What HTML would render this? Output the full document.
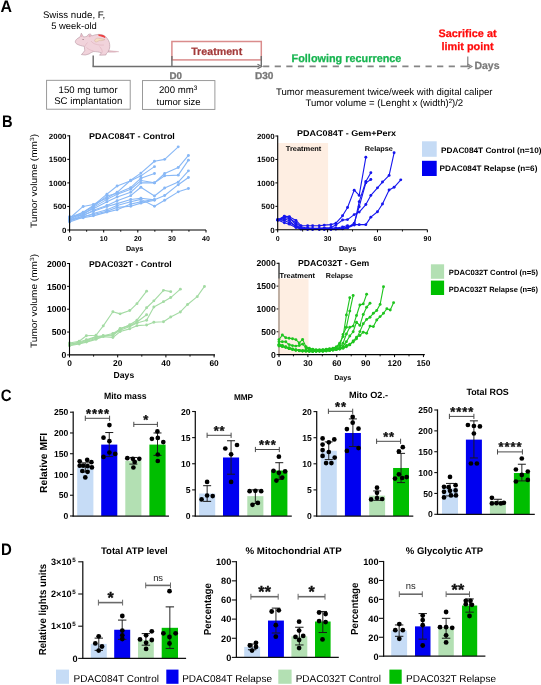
<!DOCTYPE html>
<html><head><meta charset="utf-8"><title>Figure</title>
<style>
html,body{margin:0;padding:0;background:#fff;}
body{width:541px;height:685px;overflow:hidden;}
svg{display:block;font-family:'Liberation Sans', Arial, sans-serif;text-rendering:geometricPrecision;}
</style></head>
<body>
<svg width="541" height="685" viewBox="0 0 541 685">
<rect width="541" height="685" fill="#fff"/>
<text x="0.4" y="11.9" font-size="16.6" font-weight="bold" fill="#000" textLength="11.5" lengthAdjust="spacingAndGlyphs" >A</text>
<text x="42.9" y="18.0" font-size="9.6" fill="#000" textLength="62.4" lengthAdjust="spacingAndGlyphs" >Swiss nude, F,</text>
<text x="51.2" y="28.7" font-size="9.4" fill="#000" textLength="45.6" lengthAdjust="spacingAndGlyphs" >5 week-old</text>
<g stroke-linejoin="round">
  <path d="M108.6,50.5 C112,50.9 116,51.2 118.9,51.7 C116,52.2 112,52.4 108.4,52.3 Z" fill="#e3bcc5" stroke="#c89aa6" stroke-width="0.3"/>
  <path d="M75.3,41.6 C75.6,40.2 76.5,39.2 77.8,38.3 L80.2,36.8 L81.3,33.2 L83.5,37.0 C84.8,36.8 86.2,36.6 87.3,36.2 C87.6,34.8 88.6,34.0 89.9,34.0 C91.0,34.1 91.6,35.0 91.7,36.0 C93.5,35.0 95.8,34.6 98.1,34.4 C101.5,34.2 104.0,35.2 105.9,37.0 C108.0,39.0 109.5,41.8 109.7,44.6 C109.9,47.2 109.6,49.3 108.5,50.7 L108.2,52.0 C107.0,52.6 106.2,53.4 105.9,55.0 L99.5,55.2 C100.2,54.2 101.0,53.4 101.5,52.8 C98.8,52.0 95.8,51.5 93.5,51.6 C92.0,52.0 90.4,53.0 89.0,54.0 L85.3,55.0 L81.4,54.6 C82.4,53.4 83.8,52.2 84.7,50.6 C84.6,48.6 84.4,47.2 84.2,46.3 C82.8,46.1 81.4,45.9 80.7,45.6 C79.2,45.2 77.8,44.6 76.7,43.9 C75.8,43.4 75.2,42.5 75.3,41.6 Z" fill="#f1d3db" stroke="#a98390" stroke-width="0.5"/>
  <path d="M88.4,36.3 C88.6,35.2 89.4,34.7 90.1,34.8 C90.8,35.0 91.0,35.8 90.9,36.6 C90.2,37.4 89.0,37.4 88.4,36.3 Z" fill="#e2adbb"/>
  <path d="M80.6,36.9 L81.3,34.4 L82.5,37.0 Z" fill="#e6b4c0"/>
  <path d="M98.1,34.6 C101.5,34.3 104.0,35.2 105.5,36.9 L104.9,38.1 C103.0,36.9 100.8,36.1 98.7,36.0 Z" fill="#ee4040"/>
  <path d="M94.6,40.5 C95.0,38.8 96.8,37.8 98.6,38.3 C100.6,38.7 102.8,39.0 104.9,39.6 C103.4,40.6 101.2,40.8 99.4,40.6 C98.0,41.2 96.6,42.2 95.4,42.0 Z" fill="#f5dcc4" stroke="#c6a388" stroke-width="0.35"/>
  <path d="M86.5,47.5 C88.5,49.3 90.5,50.3 93.5,51.0 M99.5,46.5 C101.5,48.5 102.5,50.5 102.2,52.6 M91,41 C93,44 98,45.5 104,45 M84.6,46.6 C85.6,45 86.5,43.5 87.5,42.5" fill="none" stroke="#d8a6b3" stroke-width="0.45"/>
  <ellipse cx="83.1" cy="39.4" rx="0.7" ry="0.45" fill="#5a3a45"/>
</g>
<line x1="93.20" y1="55.60" x2="93.20" y2="66.60" stroke="#6e6e6e" stroke-width="1.45" />
<line x1="92.50" y1="66.40" x2="259.50" y2="66.40" stroke="#6e6e6e" stroke-width="1.45" />
<path d="M257.5,64.2 L261.8,66.5 L257.5,68.8" fill="none" stroke="#6e6e6e" stroke-width="1.1"/>
<rect x="171.90" y="41.50" width="89.40" height="18.40" fill="none" stroke="#da8c8c" stroke-width="1.5" />
<line x1="171.90" y1="56.00" x2="171.90" y2="66.50" stroke="#6e6e6e" stroke-width="1.4" />
<line x1="261.30" y1="56.00" x2="261.30" y2="66.50" stroke="#6e6e6e" stroke-width="1.4" />
<text x="191.2" y="54.7" font-size="10.7" font-weight="bold" fill="#a33a3a" textLength="51.0" lengthAdjust="spacingAndGlyphs" stroke="#a33a3a" stroke-width="0.2">Treatment</text>
<text x="169.6" y="79.3" font-size="9.7" font-weight="bold" fill="#777777" textLength="12.4" lengthAdjust="spacingAndGlyphs" stroke="#777777" stroke-width="0.3">D0</text>
<text x="254.9" y="79.3" font-size="10" font-weight="bold" fill="#777777" textLength="18.5" lengthAdjust="spacingAndGlyphs" stroke="#777777" stroke-width="0.3">D30</text>
<rect x="46.60" y="80.30" width="83.60" height="28.90" fill="#fff" stroke="#8f8f8f" stroke-width="0.9" />
<text x="58.6" y="93.1" font-size="9.6" fill="#000" textLength="59.0" lengthAdjust="spacingAndGlyphs" >150 mg tumor</text>
<text x="54.2" y="104.0" font-size="9.6" fill="#000" textLength="68.1" lengthAdjust="spacingAndGlyphs" >SC implantation</text>
<rect x="142.50" y="80.60" width="72.40" height="28.80" fill="#fff" stroke="#8f8f8f" stroke-width="0.9" />
<text x="159.0" y="92.9" font-size="9.6" fill="#000">200 mm<tspan font-size="6.4" dy="-3.4">3</tspan></text>
<text x="156.6" y="104.6" font-size="9.5" fill="#000" textLength="44.0" lengthAdjust="spacingAndGlyphs" >tumor size</text>
<line x1="263.10" y1="66.40" x2="459.00" y2="66.40" stroke="#858585" stroke-width="1.7" stroke-dasharray="6.2,5.4"/>
<line x1="460.40" y1="66.40" x2="470.00" y2="66.40" stroke="#858585" stroke-width="1.7" />
<path d="M467.6,63.9 L471.9,66.4 L467.6,68.9" fill="none" stroke="#858585" stroke-width="1.2"/>
<line x1="467.80" y1="56.40" x2="467.80" y2="66.30" stroke="#777" stroke-width="1.1" />
<text x="291.6" y="62.3" font-size="11.1" font-weight="bold" fill="#16b44f" textLength="109.8" lengthAdjust="spacingAndGlyphs" stroke="#16b44f" stroke-width="0.25">Following recurrence</text>
<text x="438.4" y="37.4" font-size="10.9" font-weight="bold" fill="#ff0a0a" textLength="58.2" lengthAdjust="spacingAndGlyphs" stroke="#ff0a0a" stroke-width="0.25">Sacrifice at</text>
<text x="441.5" y="50.4" font-size="10.9" font-weight="bold" fill="#ff0a0a" textLength="52.1" lengthAdjust="spacingAndGlyphs" stroke="#ff0a0a" stroke-width="0.25">limit point</text>
<text x="474.4" y="69.4" font-size="10.5" font-weight="bold" fill="#7a7a7a" textLength="25.1" lengthAdjust="spacingAndGlyphs" stroke="#7a7a7a" stroke-width="0.25">Days</text>
<text x="276.0" y="94.9" font-size="9.6" fill="#000" textLength="216.5" lengthAdjust="spacingAndGlyphs" >Tumor measurement twice/week with digital caliper</text>
<text x="305.5" y="106.0" font-size="9.6" fill="#000" textLength="157.7" lengthAdjust="spacingAndGlyphs">Tumor volume = (Lenght x (width)<tspan font-size="6" dy="-3.3">2</tspan><tspan dy="3.3">)/2</tspan></text>
<text x="1.9" y="126.6" font-size="16.8" font-weight="bold" fill="#000" textLength="10.6" lengthAdjust="spacingAndGlyphs" >B</text>
<path d="M69.60,218.22 L83.18,206.45 L93.36,204.57 L106.94,197.97 L117.13,192.32 L130.71,180.22 L140.89,173.10 L154.47,161.23 L164.66,159.35 L178.24,146.87" fill="none" stroke="#88b8f6" stroke-width="1.1" stroke-linejoin="round"/>
<circle cx="69.60" cy="218.22" r="1.45" fill="#88b8f6"/>
<circle cx="83.18" cy="206.45" r="1.45" fill="#88b8f6"/>
<circle cx="93.36" cy="204.57" r="1.45" fill="#88b8f6"/>
<circle cx="106.94" cy="197.97" r="1.45" fill="#88b8f6"/>
<circle cx="117.13" cy="192.32" r="1.45" fill="#88b8f6"/>
<circle cx="130.71" cy="180.22" r="1.45" fill="#88b8f6"/>
<circle cx="140.89" cy="173.10" r="1.45" fill="#88b8f6"/>
<circle cx="154.47" cy="161.23" r="1.45" fill="#88b8f6"/>
<circle cx="164.66" cy="159.35" r="1.45" fill="#88b8f6"/>
<circle cx="178.24" cy="146.87" r="1.45" fill="#88b8f6"/>
<path d="M69.60,219.17 L83.18,212.10 L93.36,205.51 L106.94,194.20 L117.13,185.96 L130.71,180.78 L140.89,175.84 L154.47,166.65" fill="none" stroke="#88b8f6" stroke-width="1.1" stroke-linejoin="round"/>
<circle cx="69.60" cy="219.17" r="1.45" fill="#88b8f6"/>
<circle cx="83.18" cy="212.10" r="1.45" fill="#88b8f6"/>
<circle cx="93.36" cy="205.51" r="1.45" fill="#88b8f6"/>
<circle cx="106.94" cy="194.20" r="1.45" fill="#88b8f6"/>
<circle cx="117.13" cy="185.96" r="1.45" fill="#88b8f6"/>
<circle cx="130.71" cy="180.78" r="1.45" fill="#88b8f6"/>
<circle cx="140.89" cy="175.84" r="1.45" fill="#88b8f6"/>
<circle cx="154.47" cy="166.65" r="1.45" fill="#88b8f6"/>
<path d="M69.60,217.28 L83.18,212.57 L93.36,206.45 L106.94,196.09 L117.13,193.26 L130.71,187.61 L140.89,178.19 L154.47,173.48" fill="none" stroke="#88b8f6" stroke-width="1.1" stroke-linejoin="round"/>
<circle cx="69.60" cy="217.28" r="1.45" fill="#88b8f6"/>
<circle cx="83.18" cy="212.57" r="1.45" fill="#88b8f6"/>
<circle cx="93.36" cy="206.45" r="1.45" fill="#88b8f6"/>
<circle cx="106.94" cy="196.09" r="1.45" fill="#88b8f6"/>
<circle cx="117.13" cy="193.26" r="1.45" fill="#88b8f6"/>
<circle cx="130.71" cy="187.61" r="1.45" fill="#88b8f6"/>
<circle cx="140.89" cy="178.19" r="1.45" fill="#88b8f6"/>
<circle cx="154.47" cy="173.48" r="1.45" fill="#88b8f6"/>
<path d="M69.60,220.11 L83.18,214.46 L93.36,207.39 L106.94,199.38 L117.13,194.20 L130.71,189.26 L140.89,180.55 L154.47,182.81 L164.66,173.48 L178.24,167.55 L188.43,155.44" fill="none" stroke="#88b8f6" stroke-width="1.1" stroke-linejoin="round"/>
<circle cx="69.60" cy="220.11" r="1.45" fill="#88b8f6"/>
<circle cx="83.18" cy="214.46" r="1.45" fill="#88b8f6"/>
<circle cx="93.36" cy="207.39" r="1.45" fill="#88b8f6"/>
<circle cx="106.94" cy="199.38" r="1.45" fill="#88b8f6"/>
<circle cx="117.13" cy="194.20" r="1.45" fill="#88b8f6"/>
<circle cx="130.71" cy="189.26" r="1.45" fill="#88b8f6"/>
<circle cx="140.89" cy="180.55" r="1.45" fill="#88b8f6"/>
<circle cx="154.47" cy="182.81" r="1.45" fill="#88b8f6"/>
<circle cx="164.66" cy="173.48" r="1.45" fill="#88b8f6"/>
<circle cx="178.24" cy="167.55" r="1.45" fill="#88b8f6"/>
<circle cx="188.43" cy="155.44" r="1.45" fill="#88b8f6"/>
<path d="M69.60,218.70 L83.18,213.52 L93.36,208.81 L106.94,201.74 L117.13,197.03 L130.71,192.32 L140.89,182.90 L154.47,182.90 L164.66,175.74 L178.24,175.13 L188.43,160.15" fill="none" stroke="#88b8f6" stroke-width="1.1" stroke-linejoin="round"/>
<circle cx="69.60" cy="218.70" r="1.45" fill="#88b8f6"/>
<circle cx="83.18" cy="213.52" r="1.45" fill="#88b8f6"/>
<circle cx="93.36" cy="208.81" r="1.45" fill="#88b8f6"/>
<circle cx="106.94" cy="201.74" r="1.45" fill="#88b8f6"/>
<circle cx="117.13" cy="197.03" r="1.45" fill="#88b8f6"/>
<circle cx="130.71" cy="192.32" r="1.45" fill="#88b8f6"/>
<circle cx="140.89" cy="182.90" r="1.45" fill="#88b8f6"/>
<circle cx="154.47" cy="182.90" r="1.45" fill="#88b8f6"/>
<circle cx="164.66" cy="175.74" r="1.45" fill="#88b8f6"/>
<circle cx="178.24" cy="175.13" r="1.45" fill="#88b8f6"/>
<circle cx="188.43" cy="160.15" r="1.45" fill="#88b8f6"/>
<path d="M69.60,221.05 L83.18,215.87 L93.36,210.22 L106.94,205.51 L117.13,200.80 L130.71,195.66 L140.89,187.28 L154.47,195.99 L164.66,187.99 L178.24,182.10 L188.43,170.84" fill="none" stroke="#88b8f6" stroke-width="1.1" stroke-linejoin="round"/>
<circle cx="69.60" cy="221.05" r="1.45" fill="#88b8f6"/>
<circle cx="83.18" cy="215.87" r="1.45" fill="#88b8f6"/>
<circle cx="93.36" cy="210.22" r="1.45" fill="#88b8f6"/>
<circle cx="106.94" cy="205.51" r="1.45" fill="#88b8f6"/>
<circle cx="117.13" cy="200.80" r="1.45" fill="#88b8f6"/>
<circle cx="130.71" cy="195.66" r="1.45" fill="#88b8f6"/>
<circle cx="140.89" cy="187.28" r="1.45" fill="#88b8f6"/>
<circle cx="154.47" cy="195.99" r="1.45" fill="#88b8f6"/>
<circle cx="164.66" cy="187.99" r="1.45" fill="#88b8f6"/>
<circle cx="178.24" cy="182.10" r="1.45" fill="#88b8f6"/>
<circle cx="188.43" cy="170.84" r="1.45" fill="#88b8f6"/>
<path d="M69.60,216.81 L83.18,214.93 L93.36,211.16 L106.94,206.45 L117.13,203.62 L130.71,199.57 L140.89,198.25 L154.47,199.86 L164.66,195.48 L178.24,184.69 L188.43,177.44" fill="none" stroke="#88b8f6" stroke-width="1.1" stroke-linejoin="round"/>
<circle cx="69.60" cy="216.81" r="1.45" fill="#88b8f6"/>
<circle cx="83.18" cy="214.93" r="1.45" fill="#88b8f6"/>
<circle cx="93.36" cy="211.16" r="1.45" fill="#88b8f6"/>
<circle cx="106.94" cy="206.45" r="1.45" fill="#88b8f6"/>
<circle cx="117.13" cy="203.62" r="1.45" fill="#88b8f6"/>
<circle cx="130.71" cy="199.57" r="1.45" fill="#88b8f6"/>
<circle cx="140.89" cy="198.25" r="1.45" fill="#88b8f6"/>
<circle cx="154.47" cy="199.86" r="1.45" fill="#88b8f6"/>
<circle cx="164.66" cy="195.48" r="1.45" fill="#88b8f6"/>
<circle cx="178.24" cy="184.69" r="1.45" fill="#88b8f6"/>
<circle cx="188.43" cy="177.44" r="1.45" fill="#88b8f6"/>
<path d="M69.60,221.99 L83.18,217.28 L93.36,213.52 L106.94,209.75 L117.13,205.51 L130.71,201.74 L140.89,199.38 L154.47,206.26 L164.66,200.28 L178.24,191.85 L188.43,188.55" fill="none" stroke="#88b8f6" stroke-width="1.1" stroke-linejoin="round"/>
<circle cx="69.60" cy="221.99" r="1.45" fill="#88b8f6"/>
<circle cx="83.18" cy="217.28" r="1.45" fill="#88b8f6"/>
<circle cx="93.36" cy="213.52" r="1.45" fill="#88b8f6"/>
<circle cx="106.94" cy="209.75" r="1.45" fill="#88b8f6"/>
<circle cx="117.13" cy="205.51" r="1.45" fill="#88b8f6"/>
<circle cx="130.71" cy="201.74" r="1.45" fill="#88b8f6"/>
<circle cx="140.89" cy="199.38" r="1.45" fill="#88b8f6"/>
<circle cx="154.47" cy="206.26" r="1.45" fill="#88b8f6"/>
<circle cx="164.66" cy="200.28" r="1.45" fill="#88b8f6"/>
<circle cx="178.24" cy="191.85" r="1.45" fill="#88b8f6"/>
<circle cx="188.43" cy="188.55" r="1.45" fill="#88b8f6"/>
<path d="M69.60,220.58 L83.18,216.34 L93.36,214.46 L106.94,211.16 L117.13,207.39 L130.71,206.26 L140.89,203.15 L154.47,200.33" fill="none" stroke="#88b8f6" stroke-width="1.1" stroke-linejoin="round"/>
<circle cx="69.60" cy="220.58" r="1.45" fill="#88b8f6"/>
<circle cx="83.18" cy="216.34" r="1.45" fill="#88b8f6"/>
<circle cx="93.36" cy="214.46" r="1.45" fill="#88b8f6"/>
<circle cx="106.94" cy="211.16" r="1.45" fill="#88b8f6"/>
<circle cx="117.13" cy="207.39" r="1.45" fill="#88b8f6"/>
<circle cx="130.71" cy="206.26" r="1.45" fill="#88b8f6"/>
<circle cx="140.89" cy="203.15" r="1.45" fill="#88b8f6"/>
<circle cx="154.47" cy="200.33" r="1.45" fill="#88b8f6"/>
<path d="M69.60,219.64 L83.18,217.75 L93.36,215.87 L106.94,212.10 L117.13,209.75 L130.71,204.09 L140.89,201.74 L154.47,199.38" fill="none" stroke="#88b8f6" stroke-width="1.1" stroke-linejoin="round"/>
<circle cx="69.60" cy="219.64" r="1.45" fill="#88b8f6"/>
<circle cx="83.18" cy="217.75" r="1.45" fill="#88b8f6"/>
<circle cx="93.36" cy="215.87" r="1.45" fill="#88b8f6"/>
<circle cx="106.94" cy="212.10" r="1.45" fill="#88b8f6"/>
<circle cx="117.13" cy="209.75" r="1.45" fill="#88b8f6"/>
<circle cx="130.71" cy="204.09" r="1.45" fill="#88b8f6"/>
<circle cx="140.89" cy="201.74" r="1.45" fill="#88b8f6"/>
<circle cx="154.47" cy="199.38" r="1.45" fill="#88b8f6"/>
<line x1="69.60" y1="135.30" x2="69.60" y2="230.50" stroke="#000" stroke-width="1.1" />
<line x1="67.30" y1="230.00" x2="69.60" y2="230.00" stroke="#000" stroke-width="1.0" />
<text x="66.5" y="232.7" font-size="7.5" font-weight="bold" fill="#000" text-anchor="end" textLength="4.42" lengthAdjust="spacingAndGlyphs">0</text>
<line x1="67.30" y1="206.45" x2="69.60" y2="206.45" stroke="#000" stroke-width="1.0" />
<text x="66.5" y="209.1" font-size="7.5" font-weight="bold" fill="#000" text-anchor="end" textLength="13.26" lengthAdjust="spacingAndGlyphs">500</text>
<line x1="67.30" y1="182.90" x2="69.60" y2="182.90" stroke="#000" stroke-width="1.0" />
<text x="66.5" y="185.6" font-size="7.5" font-weight="bold" fill="#000" text-anchor="end" textLength="17.68" lengthAdjust="spacingAndGlyphs">1000</text>
<line x1="67.30" y1="159.35" x2="69.60" y2="159.35" stroke="#000" stroke-width="1.0" />
<text x="66.5" y="162.1" font-size="7.5" font-weight="bold" fill="#000" text-anchor="end" textLength="17.68" lengthAdjust="spacingAndGlyphs">1500</text>
<line x1="67.30" y1="135.80" x2="69.60" y2="135.80" stroke="#000" stroke-width="1.0" />
<text x="66.5" y="138.5" font-size="7.5" font-weight="bold" fill="#000" text-anchor="end" textLength="17.68" lengthAdjust="spacingAndGlyphs">2000</text>
<line x1="69.10" y1="230.00" x2="206.00" y2="230.00" stroke="#000" stroke-width="1.1" />
<line x1="69.60" y1="230.00" x2="69.60" y2="232.50" stroke="#000" stroke-width="1.0" />
<text x="69.6" y="241.0" font-size="7.0" font-weight="bold" fill="#000" text-anchor="middle" >0</text>
<line x1="103.70" y1="230.00" x2="103.70" y2="232.50" stroke="#000" stroke-width="1.0" />
<text x="103.7" y="241.0" font-size="7.0" font-weight="bold" fill="#000" text-anchor="middle" >10</text>
<line x1="137.80" y1="230.00" x2="137.80" y2="232.50" stroke="#000" stroke-width="1.0" />
<text x="137.8" y="241.0" font-size="7.0" font-weight="bold" fill="#000" text-anchor="middle" >20</text>
<line x1="171.90" y1="230.00" x2="171.90" y2="232.50" stroke="#000" stroke-width="1.0" />
<text x="171.9" y="241.0" font-size="7.0" font-weight="bold" fill="#000" text-anchor="middle" >30</text>
<line x1="206.00" y1="230.00" x2="206.00" y2="232.50" stroke="#000" stroke-width="1.0" />
<text x="206.0" y="241.0" font-size="7.0" font-weight="bold" fill="#000" text-anchor="middle" >40</text>
<line x1="86.65" y1="230.00" x2="86.65" y2="231.75" stroke="#000" stroke-width="0.9" />
<line x1="120.75" y1="230.00" x2="120.75" y2="231.75" stroke="#000" stroke-width="0.9" />
<line x1="154.85" y1="230.00" x2="154.85" y2="231.75" stroke="#000" stroke-width="0.9" />
<line x1="188.95" y1="230.00" x2="188.95" y2="231.75" stroke="#000" stroke-width="0.9" />
<text x="125.9" y="251.3" font-size="7.2" font-weight="bold" fill="#000" textLength="17.3" lengthAdjust="spacingAndGlyphs" >Days</text>
<text x="88.9" y="138.8" font-size="8.4" font-weight="bold" fill="#000" textLength="86.0" lengthAdjust="spacingAndGlyphs" >PDAC084T - Control</text>
<text transform="translate(36.9,181.0) rotate(-90)" font-size="9.2" text-anchor="middle" fill="#000" textLength="94" lengthAdjust="spacingAndGlyphs">Tumor volume (mm<tspan font-size="6" dy="-3">3</tspan><tspan dy="3">)</tspan></text>
<rect x="278.00" y="143.00" width="50.10" height="86.80" fill="#feeee2" stroke="none" stroke-width="1" />
<path d="M277.70,219.95 L284.35,216.20 L289.34,216.67 L295.99,220.42 L300.98,225.58 L307.63,225.81 L312.62,225.81 L319.27,225.81 L324.26,225.11 L330.92,224.64 L335.90,223.23 L342.56,215.82 L347.55,207.48 L354.20,190.17 L359.19,195.42 L365.84,157.29" fill="none" stroke="#1616ee" stroke-width="1.1" stroke-linejoin="round"/>
<circle cx="277.70" cy="219.95" r="1.45" fill="#1616ee"/>
<circle cx="284.35" cy="216.20" r="1.45" fill="#1616ee"/>
<circle cx="289.34" cy="216.67" r="1.45" fill="#1616ee"/>
<circle cx="295.99" cy="220.42" r="1.45" fill="#1616ee"/>
<circle cx="300.98" cy="225.58" r="1.45" fill="#1616ee"/>
<circle cx="307.63" cy="225.81" r="1.45" fill="#1616ee"/>
<circle cx="312.62" cy="225.81" r="1.45" fill="#1616ee"/>
<circle cx="319.27" cy="225.81" r="1.45" fill="#1616ee"/>
<circle cx="324.26" cy="225.11" r="1.45" fill="#1616ee"/>
<circle cx="330.92" cy="224.64" r="1.45" fill="#1616ee"/>
<circle cx="335.90" cy="223.23" r="1.45" fill="#1616ee"/>
<circle cx="342.56" cy="215.82" r="1.45" fill="#1616ee"/>
<circle cx="347.55" cy="207.48" r="1.45" fill="#1616ee"/>
<circle cx="354.20" cy="190.17" r="1.45" fill="#1616ee"/>
<circle cx="359.19" cy="195.42" r="1.45" fill="#1616ee"/>
<circle cx="365.84" cy="157.29" r="1.45" fill="#1616ee"/>
<path d="M277.70,219.95 L284.35,217.61 L289.34,218.54 L295.99,222.77 L300.98,226.99 L307.63,227.92 L312.62,228.39 L319.27,228.39 L324.26,227.92 L330.92,227.46 L335.90,225.11 L342.56,220.04 L347.55,219.62 L354.20,214.60 L359.19,212.12 L365.84,204.57 L370.83,195.42 L377.48,187.87 L382.47,182.06 L389.12,175.40 L394.11,152.79" fill="none" stroke="#1616ee" stroke-width="1.1" stroke-linejoin="round"/>
<circle cx="277.70" cy="219.95" r="1.45" fill="#1616ee"/>
<circle cx="284.35" cy="217.61" r="1.45" fill="#1616ee"/>
<circle cx="289.34" cy="218.54" r="1.45" fill="#1616ee"/>
<circle cx="295.99" cy="222.77" r="1.45" fill="#1616ee"/>
<circle cx="300.98" cy="226.99" r="1.45" fill="#1616ee"/>
<circle cx="307.63" cy="227.92" r="1.45" fill="#1616ee"/>
<circle cx="312.62" cy="228.39" r="1.45" fill="#1616ee"/>
<circle cx="319.27" cy="228.39" r="1.45" fill="#1616ee"/>
<circle cx="324.26" cy="227.92" r="1.45" fill="#1616ee"/>
<circle cx="330.92" cy="227.46" r="1.45" fill="#1616ee"/>
<circle cx="335.90" cy="225.11" r="1.45" fill="#1616ee"/>
<circle cx="342.56" cy="220.04" r="1.45" fill="#1616ee"/>
<circle cx="347.55" cy="219.62" r="1.45" fill="#1616ee"/>
<circle cx="354.20" cy="214.60" r="1.45" fill="#1616ee"/>
<circle cx="359.19" cy="212.12" r="1.45" fill="#1616ee"/>
<circle cx="365.84" cy="204.57" r="1.45" fill="#1616ee"/>
<circle cx="370.83" cy="195.42" r="1.45" fill="#1616ee"/>
<circle cx="377.48" cy="187.87" r="1.45" fill="#1616ee"/>
<circle cx="382.47" cy="182.06" r="1.45" fill="#1616ee"/>
<circle cx="389.12" cy="175.40" r="1.45" fill="#1616ee"/>
<circle cx="394.11" cy="152.79" r="1.45" fill="#1616ee"/>
<path d="M277.70,219.95 L284.35,222.77 L289.34,224.17 L295.99,227.46 L300.98,228.86 L307.63,229.33 L312.62,229.33 L319.27,229.33 L324.26,229.33 L330.92,229.33 L335.90,228.86 L342.56,228.39 L347.55,226.99 L354.20,224.64 L359.19,224.64 L365.84,224.64 L370.83,217.14 L377.48,211.70 L382.47,203.96 L389.12,189.98 L394.11,187.26 L400.76,179.85" fill="none" stroke="#1616ee" stroke-width="1.1" stroke-linejoin="round"/>
<circle cx="277.70" cy="219.95" r="1.45" fill="#1616ee"/>
<circle cx="284.35" cy="222.77" r="1.45" fill="#1616ee"/>
<circle cx="289.34" cy="224.17" r="1.45" fill="#1616ee"/>
<circle cx="295.99" cy="227.46" r="1.45" fill="#1616ee"/>
<circle cx="300.98" cy="228.86" r="1.45" fill="#1616ee"/>
<circle cx="307.63" cy="229.33" r="1.45" fill="#1616ee"/>
<circle cx="312.62" cy="229.33" r="1.45" fill="#1616ee"/>
<circle cx="319.27" cy="229.33" r="1.45" fill="#1616ee"/>
<circle cx="324.26" cy="229.33" r="1.45" fill="#1616ee"/>
<circle cx="330.92" cy="229.33" r="1.45" fill="#1616ee"/>
<circle cx="335.90" cy="228.86" r="1.45" fill="#1616ee"/>
<circle cx="342.56" cy="228.39" r="1.45" fill="#1616ee"/>
<circle cx="347.55" cy="226.99" r="1.45" fill="#1616ee"/>
<circle cx="354.20" cy="224.64" r="1.45" fill="#1616ee"/>
<circle cx="359.19" cy="224.64" r="1.45" fill="#1616ee"/>
<circle cx="365.84" cy="224.64" r="1.45" fill="#1616ee"/>
<circle cx="370.83" cy="217.14" r="1.45" fill="#1616ee"/>
<circle cx="377.48" cy="211.70" r="1.45" fill="#1616ee"/>
<circle cx="382.47" cy="203.96" r="1.45" fill="#1616ee"/>
<circle cx="389.12" cy="189.98" r="1.45" fill="#1616ee"/>
<circle cx="394.11" cy="187.26" r="1.45" fill="#1616ee"/>
<circle cx="400.76" cy="179.85" r="1.45" fill="#1616ee"/>
<path d="M277.70,219.95 L284.35,216.67 L289.34,217.14 L295.99,225.11 L300.98,227.92 L307.63,228.86 L312.62,229.10 L319.27,229.10 L324.26,229.10 L330.92,229.10 L335.90,228.86 L342.56,228.39 L347.55,227.46 L354.20,223.28 L359.19,206.68 L365.84,182.85 L370.83,179.52" fill="none" stroke="#1616ee" stroke-width="1.1" stroke-linejoin="round"/>
<circle cx="277.70" cy="219.95" r="1.45" fill="#1616ee"/>
<circle cx="284.35" cy="216.67" r="1.45" fill="#1616ee"/>
<circle cx="289.34" cy="217.14" r="1.45" fill="#1616ee"/>
<circle cx="295.99" cy="225.11" r="1.45" fill="#1616ee"/>
<circle cx="300.98" cy="227.92" r="1.45" fill="#1616ee"/>
<circle cx="307.63" cy="228.86" r="1.45" fill="#1616ee"/>
<circle cx="312.62" cy="229.10" r="1.45" fill="#1616ee"/>
<circle cx="319.27" cy="229.10" r="1.45" fill="#1616ee"/>
<circle cx="324.26" cy="229.10" r="1.45" fill="#1616ee"/>
<circle cx="330.92" cy="229.10" r="1.45" fill="#1616ee"/>
<circle cx="335.90" cy="228.86" r="1.45" fill="#1616ee"/>
<circle cx="342.56" cy="228.39" r="1.45" fill="#1616ee"/>
<circle cx="347.55" cy="227.46" r="1.45" fill="#1616ee"/>
<circle cx="354.20" cy="223.28" r="1.45" fill="#1616ee"/>
<circle cx="359.19" cy="206.68" r="1.45" fill="#1616ee"/>
<circle cx="365.84" cy="182.85" r="1.45" fill="#1616ee"/>
<circle cx="370.83" cy="179.52" r="1.45" fill="#1616ee"/>
<path d="M277.70,219.95 L284.35,219.01 L289.34,220.42 L295.99,226.99 L300.98,229.10 L307.63,229.33 L312.62,229.33 L319.27,229.33 L324.26,229.33 L330.92,229.33 L335.90,229.10 L342.56,228.86 L347.55,227.92 L354.20,225.11 L359.19,201.66 L365.84,181.49 L370.83,172.68" fill="none" stroke="#1616ee" stroke-width="1.1" stroke-linejoin="round"/>
<circle cx="277.70" cy="219.95" r="1.45" fill="#1616ee"/>
<circle cx="284.35" cy="219.01" r="1.45" fill="#1616ee"/>
<circle cx="289.34" cy="220.42" r="1.45" fill="#1616ee"/>
<circle cx="295.99" cy="226.99" r="1.45" fill="#1616ee"/>
<circle cx="300.98" cy="229.10" r="1.45" fill="#1616ee"/>
<circle cx="307.63" cy="229.33" r="1.45" fill="#1616ee"/>
<circle cx="312.62" cy="229.33" r="1.45" fill="#1616ee"/>
<circle cx="319.27" cy="229.33" r="1.45" fill="#1616ee"/>
<circle cx="324.26" cy="229.33" r="1.45" fill="#1616ee"/>
<circle cx="330.92" cy="229.33" r="1.45" fill="#1616ee"/>
<circle cx="335.90" cy="229.10" r="1.45" fill="#1616ee"/>
<circle cx="342.56" cy="228.86" r="1.45" fill="#1616ee"/>
<circle cx="347.55" cy="227.92" r="1.45" fill="#1616ee"/>
<circle cx="354.20" cy="225.11" r="1.45" fill="#1616ee"/>
<circle cx="359.19" cy="201.66" r="1.45" fill="#1616ee"/>
<circle cx="365.84" cy="181.49" r="1.45" fill="#1616ee"/>
<circle cx="370.83" cy="172.68" r="1.45" fill="#1616ee"/>
<path d="M277.70,219.95 L284.35,220.42 L289.34,222.77 L295.99,226.05 L300.98,228.39 L307.63,228.86 L312.62,228.86 L319.27,228.86 L324.26,228.63 L330.92,228.39 L335.90,227.92 L342.56,226.99 L347.55,225.58" fill="none" stroke="#1616ee" stroke-width="1.1" stroke-linejoin="round"/>
<circle cx="277.70" cy="219.95" r="1.45" fill="#1616ee"/>
<circle cx="284.35" cy="220.42" r="1.45" fill="#1616ee"/>
<circle cx="289.34" cy="222.77" r="1.45" fill="#1616ee"/>
<circle cx="295.99" cy="226.05" r="1.45" fill="#1616ee"/>
<circle cx="300.98" cy="228.39" r="1.45" fill="#1616ee"/>
<circle cx="307.63" cy="228.86" r="1.45" fill="#1616ee"/>
<circle cx="312.62" cy="228.86" r="1.45" fill="#1616ee"/>
<circle cx="319.27" cy="228.86" r="1.45" fill="#1616ee"/>
<circle cx="324.26" cy="228.63" r="1.45" fill="#1616ee"/>
<circle cx="330.92" cy="228.39" r="1.45" fill="#1616ee"/>
<circle cx="335.90" cy="227.92" r="1.45" fill="#1616ee"/>
<circle cx="342.56" cy="226.99" r="1.45" fill="#1616ee"/>
<circle cx="347.55" cy="225.58" r="1.45" fill="#1616ee"/>
<line x1="277.70" y1="135.50" x2="277.70" y2="230.30" stroke="#000" stroke-width="1.1" />
<line x1="275.40" y1="229.80" x2="277.70" y2="229.80" stroke="#000" stroke-width="1.0" />
<text x="274.6" y="232.5" font-size="7.5" font-weight="bold" fill="#000" text-anchor="end" textLength="4.42" lengthAdjust="spacingAndGlyphs">0</text>
<line x1="275.40" y1="206.35" x2="277.70" y2="206.35" stroke="#000" stroke-width="1.0" />
<text x="274.6" y="209.1" font-size="7.5" font-weight="bold" fill="#000" text-anchor="end" textLength="13.26" lengthAdjust="spacingAndGlyphs">500</text>
<line x1="275.40" y1="182.90" x2="277.70" y2="182.90" stroke="#000" stroke-width="1.0" />
<text x="274.6" y="185.6" font-size="7.5" font-weight="bold" fill="#000" text-anchor="end" textLength="17.68" lengthAdjust="spacingAndGlyphs">1000</text>
<line x1="275.40" y1="159.45" x2="277.70" y2="159.45" stroke="#000" stroke-width="1.0" />
<text x="274.6" y="162.1" font-size="7.5" font-weight="bold" fill="#000" text-anchor="end" textLength="17.68" lengthAdjust="spacingAndGlyphs">1500</text>
<line x1="275.40" y1="136.00" x2="277.70" y2="136.00" stroke="#000" stroke-width="1.0" />
<text x="274.6" y="138.7" font-size="7.5" font-weight="bold" fill="#000" text-anchor="end" textLength="17.68" lengthAdjust="spacingAndGlyphs">2000</text>
<line x1="277.20" y1="229.80" x2="427.50" y2="229.80" stroke="#000" stroke-width="1.1" />
<line x1="277.70" y1="229.80" x2="277.70" y2="232.30" stroke="#000" stroke-width="1.0" />
<text x="277.7" y="240.8" font-size="7.0" font-weight="bold" fill="#000" text-anchor="middle" >0</text>
<line x1="327.59" y1="229.80" x2="327.59" y2="232.30" stroke="#000" stroke-width="1.0" />
<text x="327.6" y="240.8" font-size="7.0" font-weight="bold" fill="#000" text-anchor="middle" >30</text>
<line x1="377.48" y1="229.80" x2="377.48" y2="232.30" stroke="#000" stroke-width="1.0" />
<text x="377.5" y="240.8" font-size="7.0" font-weight="bold" fill="#000" text-anchor="middle" >60</text>
<line x1="427.37" y1="229.80" x2="427.37" y2="232.30" stroke="#000" stroke-width="1.0" />
<text x="427.4" y="240.8" font-size="7.0" font-weight="bold" fill="#000" text-anchor="middle" >90</text>
<line x1="302.64" y1="229.80" x2="302.64" y2="231.55" stroke="#000" stroke-width="0.9" />
<line x1="352.53" y1="229.80" x2="352.53" y2="231.55" stroke="#000" stroke-width="0.9" />
<line x1="402.43" y1="229.80" x2="402.43" y2="231.55" stroke="#000" stroke-width="0.9" />
<text x="338.9" y="250.9" font-size="7.2" font-weight="bold" fill="#000" textLength="17.3" lengthAdjust="spacingAndGlyphs" >Days</text>
<text x="297.1" y="136.1" font-size="8.4" font-weight="bold" fill="#000" textLength="98.9" lengthAdjust="spacingAndGlyphs" >PDAC084T - Gem+Perx</text>
<text x="285.8" y="151.2" font-size="7.0" font-weight="bold" fill="#000" textLength="35.5" lengthAdjust="spacingAndGlyphs" >Treatment</text>
<text x="364.8" y="151.2" font-size="7.0" font-weight="bold" fill="#000" textLength="28.0" lengthAdjust="spacingAndGlyphs" >Relapse</text>
<rect x="422.00" y="141.30" width="14.70" height="15.50" fill="#c5dbf5" stroke="none" stroke-width="1" />
<rect x="422.00" y="160.80" width="14.70" height="15.20" fill="#0000f0" stroke="none" stroke-width="1" />
<text x="441.0" y="153.3" font-size="8.0" font-weight="bold" fill="#000" textLength="100.5" lengthAdjust="spacingAndGlyphs" >PDAC084T Control (n=10)</text>
<text x="439.5" y="171.0" font-size="8.0" font-weight="bold" fill="#000" textLength="97.9" lengthAdjust="spacingAndGlyphs" >PDAC084T Relapse (n=6)</text>
<path d="M69.50,343.02 L79.14,341.19 L86.37,335.71 L96.01,335.25 L103.24,325.88 L112.88,311.71 L120.11,313.86 L129.75,310.57 L136.98,303.67 L146.62,291.15" fill="none" stroke="#a4dba4" stroke-width="1.1" stroke-linejoin="round"/>
<circle cx="69.50" cy="343.02" r="1.45" fill="#a4dba4"/>
<circle cx="79.14" cy="341.19" r="1.45" fill="#a4dba4"/>
<circle cx="86.37" cy="335.71" r="1.45" fill="#a4dba4"/>
<circle cx="96.01" cy="335.25" r="1.45" fill="#a4dba4"/>
<circle cx="103.24" cy="325.88" r="1.45" fill="#a4dba4"/>
<circle cx="112.88" cy="311.71" r="1.45" fill="#a4dba4"/>
<circle cx="120.11" cy="313.86" r="1.45" fill="#a4dba4"/>
<circle cx="129.75" cy="310.57" r="1.45" fill="#a4dba4"/>
<circle cx="136.98" cy="303.67" r="1.45" fill="#a4dba4"/>
<circle cx="146.62" cy="291.15" r="1.45" fill="#a4dba4"/>
<path d="M69.50,344.39 L79.14,342.10 L86.37,339.82 L96.01,336.62 L103.24,335.71 L112.88,333.42 L120.11,329.31 L129.75,324.74 L136.98,320.17 L146.62,307.74 L153.85,300.84 L163.49,290.33 L170.72,291.65" fill="none" stroke="#a4dba4" stroke-width="1.1" stroke-linejoin="round"/>
<circle cx="69.50" cy="344.39" r="1.45" fill="#a4dba4"/>
<circle cx="79.14" cy="342.10" r="1.45" fill="#a4dba4"/>
<circle cx="86.37" cy="339.82" r="1.45" fill="#a4dba4"/>
<circle cx="96.01" cy="336.62" r="1.45" fill="#a4dba4"/>
<circle cx="103.24" cy="335.71" r="1.45" fill="#a4dba4"/>
<circle cx="112.88" cy="333.42" r="1.45" fill="#a4dba4"/>
<circle cx="120.11" cy="329.31" r="1.45" fill="#a4dba4"/>
<circle cx="129.75" cy="324.74" r="1.45" fill="#a4dba4"/>
<circle cx="136.98" cy="320.17" r="1.45" fill="#a4dba4"/>
<circle cx="146.62" cy="307.74" r="1.45" fill="#a4dba4"/>
<circle cx="153.85" cy="300.84" r="1.45" fill="#a4dba4"/>
<circle cx="163.49" cy="290.33" r="1.45" fill="#a4dba4"/>
<circle cx="170.72" cy="291.65" r="1.45" fill="#a4dba4"/>
<path d="M69.50,345.30 L79.14,343.47 L86.37,341.19 L96.01,338.45 L103.24,336.16 L112.88,334.79 L120.11,330.22 L129.75,326.57 L136.98,322.91 L146.62,320.26 L153.85,306.96 L163.49,301.66 L170.72,297.55 L180.36,289.14" fill="none" stroke="#a4dba4" stroke-width="1.1" stroke-linejoin="round"/>
<circle cx="69.50" cy="345.30" r="1.45" fill="#a4dba4"/>
<circle cx="79.14" cy="343.47" r="1.45" fill="#a4dba4"/>
<circle cx="86.37" cy="341.19" r="1.45" fill="#a4dba4"/>
<circle cx="96.01" cy="338.45" r="1.45" fill="#a4dba4"/>
<circle cx="103.24" cy="336.16" r="1.45" fill="#a4dba4"/>
<circle cx="112.88" cy="334.79" r="1.45" fill="#a4dba4"/>
<circle cx="120.11" cy="330.22" r="1.45" fill="#a4dba4"/>
<circle cx="129.75" cy="326.57" r="1.45" fill="#a4dba4"/>
<circle cx="136.98" cy="322.91" r="1.45" fill="#a4dba4"/>
<circle cx="146.62" cy="320.26" r="1.45" fill="#a4dba4"/>
<circle cx="153.85" cy="306.96" r="1.45" fill="#a4dba4"/>
<circle cx="163.49" cy="301.66" r="1.45" fill="#a4dba4"/>
<circle cx="170.72" cy="297.55" r="1.45" fill="#a4dba4"/>
<circle cx="180.36" cy="289.14" r="1.45" fill="#a4dba4"/>
<path d="M69.50,345.76 L79.14,343.93 L86.37,342.10 L96.01,339.36 L103.24,336.62 L112.88,337.53 L120.11,331.59 L129.75,328.85 L136.98,325.65 L146.62,324.97 L153.85,322.18 L163.49,321.68 L170.72,316.97 L180.36,311.94 L187.59,304.45 L197.23,296.63 L204.46,286.44" fill="none" stroke="#a4dba4" stroke-width="1.1" stroke-linejoin="round"/>
<circle cx="69.50" cy="345.76" r="1.45" fill="#a4dba4"/>
<circle cx="79.14" cy="343.93" r="1.45" fill="#a4dba4"/>
<circle cx="86.37" cy="342.10" r="1.45" fill="#a4dba4"/>
<circle cx="96.01" cy="339.36" r="1.45" fill="#a4dba4"/>
<circle cx="103.24" cy="336.62" r="1.45" fill="#a4dba4"/>
<circle cx="112.88" cy="337.53" r="1.45" fill="#a4dba4"/>
<circle cx="120.11" cy="331.59" r="1.45" fill="#a4dba4"/>
<circle cx="129.75" cy="328.85" r="1.45" fill="#a4dba4"/>
<circle cx="136.98" cy="325.65" r="1.45" fill="#a4dba4"/>
<circle cx="146.62" cy="324.97" r="1.45" fill="#a4dba4"/>
<circle cx="153.85" cy="322.18" r="1.45" fill="#a4dba4"/>
<circle cx="163.49" cy="321.68" r="1.45" fill="#a4dba4"/>
<circle cx="170.72" cy="316.97" r="1.45" fill="#a4dba4"/>
<circle cx="180.36" cy="311.94" r="1.45" fill="#a4dba4"/>
<circle cx="187.59" cy="304.45" r="1.45" fill="#a4dba4"/>
<circle cx="197.23" cy="296.63" r="1.45" fill="#a4dba4"/>
<circle cx="204.46" cy="286.44" r="1.45" fill="#a4dba4"/>
<path d="M69.50,343.93 L79.14,343.02 L86.37,340.28 L96.01,337.53 L103.24,335.71 L112.88,335.71 L120.11,328.39 L129.75,325.65 L136.98,322.00 L146.62,314.78" fill="none" stroke="#a4dba4" stroke-width="1.1" stroke-linejoin="round"/>
<circle cx="69.50" cy="343.93" r="1.45" fill="#a4dba4"/>
<circle cx="79.14" cy="343.02" r="1.45" fill="#a4dba4"/>
<circle cx="86.37" cy="340.28" r="1.45" fill="#a4dba4"/>
<circle cx="96.01" cy="337.53" r="1.45" fill="#a4dba4"/>
<circle cx="103.24" cy="335.71" r="1.45" fill="#a4dba4"/>
<circle cx="112.88" cy="335.71" r="1.45" fill="#a4dba4"/>
<circle cx="120.11" cy="328.39" r="1.45" fill="#a4dba4"/>
<circle cx="129.75" cy="325.65" r="1.45" fill="#a4dba4"/>
<circle cx="136.98" cy="322.00" r="1.45" fill="#a4dba4"/>
<circle cx="146.62" cy="314.78" r="1.45" fill="#a4dba4"/>
<line x1="69.50" y1="263.00" x2="69.50" y2="355.40" stroke="#000" stroke-width="1.1" />
<line x1="67.10" y1="354.90" x2="69.50" y2="354.90" stroke="#000" stroke-width="1.0" />
<text x="66.3" y="358.0" font-size="8.7" font-weight="bold" fill="#000" text-anchor="end" textLength="4.84" lengthAdjust="spacingAndGlyphs">0</text>
<line x1="67.10" y1="332.05" x2="69.50" y2="332.05" stroke="#000" stroke-width="1.0" />
<text x="66.3" y="335.2" font-size="8.7" font-weight="bold" fill="#000" text-anchor="end" textLength="14.51" lengthAdjust="spacingAndGlyphs">500</text>
<line x1="67.10" y1="309.20" x2="69.50" y2="309.20" stroke="#000" stroke-width="1.0" />
<text x="66.3" y="312.3" font-size="8.7" font-weight="bold" fill="#000" text-anchor="end" textLength="19.35" lengthAdjust="spacingAndGlyphs">1000</text>
<line x1="67.10" y1="286.35" x2="69.50" y2="286.35" stroke="#000" stroke-width="1.0" />
<text x="66.3" y="289.5" font-size="8.7" font-weight="bold" fill="#000" text-anchor="end" textLength="19.35" lengthAdjust="spacingAndGlyphs">1500</text>
<line x1="67.10" y1="263.50" x2="69.50" y2="263.50" stroke="#000" stroke-width="1.0" />
<text x="66.3" y="266.6" font-size="8.7" font-weight="bold" fill="#000" text-anchor="end" textLength="19.35" lengthAdjust="spacingAndGlyphs">2000</text>
<line x1="69.00" y1="354.90" x2="215.00" y2="354.90" stroke="#000" stroke-width="1.1" />
<line x1="69.50" y1="354.90" x2="69.50" y2="357.40" stroke="#000" stroke-width="1.0" />
<text x="69.5" y="366.2" font-size="8.4" font-weight="bold" fill="#000" text-anchor="middle" >0</text>
<line x1="117.70" y1="354.90" x2="117.70" y2="357.40" stroke="#000" stroke-width="1.0" />
<text x="117.7" y="366.2" font-size="8.4" font-weight="bold" fill="#000" text-anchor="middle" >20</text>
<line x1="165.90" y1="354.90" x2="165.90" y2="357.40" stroke="#000" stroke-width="1.0" />
<text x="165.9" y="366.2" font-size="8.4" font-weight="bold" fill="#000" text-anchor="middle" >40</text>
<line x1="214.10" y1="354.90" x2="214.10" y2="357.40" stroke="#000" stroke-width="1.0" />
<text x="214.1" y="366.2" font-size="8.4" font-weight="bold" fill="#000" text-anchor="middle" >60</text>
<line x1="93.60" y1="354.90" x2="93.60" y2="356.65" stroke="#000" stroke-width="0.9" />
<line x1="141.80" y1="354.90" x2="141.80" y2="356.65" stroke="#000" stroke-width="0.9" />
<line x1="190.00" y1="354.90" x2="190.00" y2="356.65" stroke="#000" stroke-width="0.9" />
<text x="113.6" y="378.1" font-size="8.6" font-weight="bold" fill="#000" textLength="20.6" lengthAdjust="spacingAndGlyphs" >Days</text>
<text x="88.9" y="266.8" font-size="8.4" font-weight="bold" fill="#000" textLength="82.7" lengthAdjust="spacingAndGlyphs" >PDAC032T - Control</text>
<text transform="translate(36.9,301.0) rotate(-90)" font-size="9.2" text-anchor="middle" fill="#000" textLength="94" lengthAdjust="spacingAndGlyphs">Tumor volume (mm<tspan font-size="6" dy="-3">3</tspan><tspan dy="3">)</tspan></text>
<line x1="279.00" y1="262.80" x2="279.00" y2="355.10" stroke="#000" stroke-width="1.1" />
<line x1="276.60" y1="354.60" x2="279.00" y2="354.60" stroke="#000" stroke-width="1.0" />
<text x="275.8" y="357.7" font-size="8.7" font-weight="bold" fill="#000" text-anchor="end" textLength="4.84" lengthAdjust="spacingAndGlyphs">0</text>
<line x1="276.60" y1="331.78" x2="279.00" y2="331.78" stroke="#000" stroke-width="1.0" />
<text x="275.8" y="334.9" font-size="8.7" font-weight="bold" fill="#000" text-anchor="end" textLength="14.51" lengthAdjust="spacingAndGlyphs">500</text>
<line x1="276.60" y1="308.95" x2="279.00" y2="308.95" stroke="#000" stroke-width="1.0" />
<text x="275.8" y="312.1" font-size="8.7" font-weight="bold" fill="#000" text-anchor="end" textLength="19.35" lengthAdjust="spacingAndGlyphs">1000</text>
<line x1="276.60" y1="286.12" x2="279.00" y2="286.12" stroke="#000" stroke-width="1.0" />
<text x="275.8" y="289.3" font-size="8.7" font-weight="bold" fill="#000" text-anchor="end" textLength="19.35" lengthAdjust="spacingAndGlyphs">1500</text>
<line x1="276.60" y1="263.30" x2="279.00" y2="263.30" stroke="#000" stroke-width="1.0" />
<text x="275.8" y="266.4" font-size="8.7" font-weight="bold" fill="#000" text-anchor="end" textLength="19.35" lengthAdjust="spacingAndGlyphs">2000</text>
<line x1="278.50" y1="354.60" x2="424.80" y2="354.60" stroke="#000" stroke-width="1.1" />
<line x1="279.00" y1="354.60" x2="279.00" y2="357.10" stroke="#000" stroke-width="1.0" />
<text x="279.0" y="365.9" font-size="8.4" font-weight="bold" fill="#000" text-anchor="middle" >0</text>
<line x1="307.89" y1="354.60" x2="307.89" y2="357.10" stroke="#000" stroke-width="1.0" />
<text x="307.9" y="365.9" font-size="8.4" font-weight="bold" fill="#000" text-anchor="middle" >30</text>
<line x1="336.78" y1="354.60" x2="336.78" y2="357.10" stroke="#000" stroke-width="1.0" />
<text x="336.8" y="365.9" font-size="8.4" font-weight="bold" fill="#000" text-anchor="middle" >60</text>
<line x1="365.67" y1="354.60" x2="365.67" y2="357.10" stroke="#000" stroke-width="1.0" />
<text x="365.7" y="365.9" font-size="8.4" font-weight="bold" fill="#000" text-anchor="middle" >90</text>
<line x1="394.56" y1="354.60" x2="394.56" y2="357.10" stroke="#000" stroke-width="1.0" />
<text x="394.6" y="365.9" font-size="8.4" font-weight="bold" fill="#000" text-anchor="middle" >120</text>
<line x1="423.45" y1="354.60" x2="423.45" y2="357.10" stroke="#000" stroke-width="1.0" />
<text x="423.4" y="365.9" font-size="8.4" font-weight="bold" fill="#000" text-anchor="middle" >150</text>
<line x1="293.44" y1="354.60" x2="293.44" y2="356.35" stroke="#000" stroke-width="0.9" />
<line x1="322.33" y1="354.60" x2="322.33" y2="356.35" stroke="#000" stroke-width="0.9" />
<line x1="351.23" y1="354.60" x2="351.23" y2="356.35" stroke="#000" stroke-width="0.9" />
<line x1="380.12" y1="354.60" x2="380.12" y2="356.35" stroke="#000" stroke-width="0.9" />
<line x1="409.00" y1="354.60" x2="409.00" y2="356.35" stroke="#000" stroke-width="0.9" />
<rect x="277.90" y="278.50" width="30.60" height="75.50" fill="#fde0ca" stroke="none" stroke-width="1" fill-opacity="0.55"/>
<path d="M279.00,339.58 L282.37,334.97 L285.74,337.71 L289.11,338.30 L292.48,338.71 L295.85,339.58 L299.22,342.91 L302.59,339.40 L305.96,346.79 L309.33,348.21 L312.70,349.12 L316.08,349.58 L319.45,350.04 L322.82,349.58 L326.19,349.12 L329.56,348.67 L332.93,348.21 L336.30,346.84 L339.67,343.19 L343.04,336.61 L346.41,314.98 L349.78,297.77" fill="none" stroke="#1ec41e" stroke-width="1.1" stroke-linejoin="round"/>
<circle cx="279.00" cy="339.58" r="1.45" fill="#1ec41e"/>
<circle cx="282.37" cy="334.97" r="1.45" fill="#1ec41e"/>
<circle cx="285.74" cy="337.71" r="1.45" fill="#1ec41e"/>
<circle cx="289.11" cy="338.30" r="1.45" fill="#1ec41e"/>
<circle cx="292.48" cy="338.71" r="1.45" fill="#1ec41e"/>
<circle cx="295.85" cy="339.58" r="1.45" fill="#1ec41e"/>
<circle cx="299.22" cy="342.91" r="1.45" fill="#1ec41e"/>
<circle cx="302.59" cy="339.40" r="1.45" fill="#1ec41e"/>
<circle cx="305.96" cy="346.79" r="1.45" fill="#1ec41e"/>
<circle cx="309.33" cy="348.21" r="1.45" fill="#1ec41e"/>
<circle cx="312.70" cy="349.12" r="1.45" fill="#1ec41e"/>
<circle cx="316.08" cy="349.58" r="1.45" fill="#1ec41e"/>
<circle cx="319.45" cy="350.04" r="1.45" fill="#1ec41e"/>
<circle cx="322.82" cy="349.58" r="1.45" fill="#1ec41e"/>
<circle cx="326.19" cy="349.12" r="1.45" fill="#1ec41e"/>
<circle cx="329.56" cy="348.67" r="1.45" fill="#1ec41e"/>
<circle cx="332.93" cy="348.21" r="1.45" fill="#1ec41e"/>
<circle cx="336.30" cy="346.84" r="1.45" fill="#1ec41e"/>
<circle cx="339.67" cy="343.19" r="1.45" fill="#1ec41e"/>
<circle cx="343.04" cy="336.61" r="1.45" fill="#1ec41e"/>
<circle cx="346.41" cy="314.98" r="1.45" fill="#1ec41e"/>
<circle cx="349.78" cy="297.77" r="1.45" fill="#1ec41e"/>
<path d="M279.00,341.82 L282.37,341.82 L285.74,341.82 L289.11,344.60 L292.48,345.61 L295.85,346.11 L299.22,345.47 L302.59,344.10 L305.96,347.75 L309.33,349.58 L312.70,350.04 L316.08,350.49 L319.45,350.04 L322.82,350.49 L326.19,349.58 L329.56,349.12 L332.93,348.67 L336.30,347.30 L339.67,345.47 L343.04,334.42 L346.41,327.21 L349.78,311.10 L353.15,295.57" fill="none" stroke="#1ec41e" stroke-width="1.1" stroke-linejoin="round"/>
<circle cx="279.00" cy="341.82" r="1.45" fill="#1ec41e"/>
<circle cx="282.37" cy="341.82" r="1.45" fill="#1ec41e"/>
<circle cx="285.74" cy="341.82" r="1.45" fill="#1ec41e"/>
<circle cx="289.11" cy="344.60" r="1.45" fill="#1ec41e"/>
<circle cx="292.48" cy="345.61" r="1.45" fill="#1ec41e"/>
<circle cx="295.85" cy="346.11" r="1.45" fill="#1ec41e"/>
<circle cx="299.22" cy="345.47" r="1.45" fill="#1ec41e"/>
<circle cx="302.59" cy="344.10" r="1.45" fill="#1ec41e"/>
<circle cx="305.96" cy="347.75" r="1.45" fill="#1ec41e"/>
<circle cx="309.33" cy="349.58" r="1.45" fill="#1ec41e"/>
<circle cx="312.70" cy="350.04" r="1.45" fill="#1ec41e"/>
<circle cx="316.08" cy="350.49" r="1.45" fill="#1ec41e"/>
<circle cx="319.45" cy="350.04" r="1.45" fill="#1ec41e"/>
<circle cx="322.82" cy="350.49" r="1.45" fill="#1ec41e"/>
<circle cx="326.19" cy="349.58" r="1.45" fill="#1ec41e"/>
<circle cx="329.56" cy="349.12" r="1.45" fill="#1ec41e"/>
<circle cx="332.93" cy="348.67" r="1.45" fill="#1ec41e"/>
<circle cx="336.30" cy="347.30" r="1.45" fill="#1ec41e"/>
<circle cx="339.67" cy="345.47" r="1.45" fill="#1ec41e"/>
<circle cx="343.04" cy="334.42" r="1.45" fill="#1ec41e"/>
<circle cx="346.41" cy="327.21" r="1.45" fill="#1ec41e"/>
<circle cx="349.78" cy="311.10" r="1.45" fill="#1ec41e"/>
<circle cx="353.15" cy="295.57" r="1.45" fill="#1ec41e"/>
<path d="M279.00,344.33 L282.37,345.47 L285.74,346.84 L289.11,347.75 L292.48,348.85 L295.85,349.85 L299.22,350.35 L302.59,350.86 L305.96,350.04 L309.33,350.49 L312.70,350.95 L316.08,350.49 L319.45,350.95 L322.82,350.04 L326.19,350.49 L329.56,350.04 L332.93,349.58 L336.30,348.67 L339.67,347.75 L343.04,343.19 L346.41,334.06 L349.78,327.21 L353.15,326.11 L356.52,315.52 L359.89,304.98 L363.26,303.88 L366.63,294.30" fill="none" stroke="#1ec41e" stroke-width="1.1" stroke-linejoin="round"/>
<circle cx="279.00" cy="344.33" r="1.45" fill="#1ec41e"/>
<circle cx="282.37" cy="345.47" r="1.45" fill="#1ec41e"/>
<circle cx="285.74" cy="346.84" r="1.45" fill="#1ec41e"/>
<circle cx="289.11" cy="347.75" r="1.45" fill="#1ec41e"/>
<circle cx="292.48" cy="348.85" r="1.45" fill="#1ec41e"/>
<circle cx="295.85" cy="349.85" r="1.45" fill="#1ec41e"/>
<circle cx="299.22" cy="350.35" r="1.45" fill="#1ec41e"/>
<circle cx="302.59" cy="350.86" r="1.45" fill="#1ec41e"/>
<circle cx="305.96" cy="350.04" r="1.45" fill="#1ec41e"/>
<circle cx="309.33" cy="350.49" r="1.45" fill="#1ec41e"/>
<circle cx="312.70" cy="350.95" r="1.45" fill="#1ec41e"/>
<circle cx="316.08" cy="350.49" r="1.45" fill="#1ec41e"/>
<circle cx="319.45" cy="350.95" r="1.45" fill="#1ec41e"/>
<circle cx="322.82" cy="350.04" r="1.45" fill="#1ec41e"/>
<circle cx="326.19" cy="350.49" r="1.45" fill="#1ec41e"/>
<circle cx="329.56" cy="350.04" r="1.45" fill="#1ec41e"/>
<circle cx="332.93" cy="349.58" r="1.45" fill="#1ec41e"/>
<circle cx="336.30" cy="348.67" r="1.45" fill="#1ec41e"/>
<circle cx="339.67" cy="347.75" r="1.45" fill="#1ec41e"/>
<circle cx="343.04" cy="343.19" r="1.45" fill="#1ec41e"/>
<circle cx="346.41" cy="334.06" r="1.45" fill="#1ec41e"/>
<circle cx="349.78" cy="327.21" r="1.45" fill="#1ec41e"/>
<circle cx="353.15" cy="326.11" r="1.45" fill="#1ec41e"/>
<circle cx="356.52" cy="315.52" r="1.45" fill="#1ec41e"/>
<circle cx="359.89" cy="304.98" r="1.45" fill="#1ec41e"/>
<circle cx="363.26" cy="303.88" r="1.45" fill="#1ec41e"/>
<circle cx="366.63" cy="294.30" r="1.45" fill="#1ec41e"/>
<path d="M279.00,345.01 L282.37,345.93 L285.74,347.07 L289.11,348.21 L292.48,349.12 L295.85,350.04 L299.22,350.49 L302.59,350.95 L305.96,350.49 L309.33,350.95 L312.70,351.40 L316.08,350.95 L319.45,350.49 L322.82,350.95 L326.19,350.04 L329.56,350.49 L332.93,350.04 L336.30,349.58 L339.67,348.67 L343.04,346.38 L346.41,341.82 L349.78,336.02 L353.15,331.78 L356.52,322.19 L359.89,325.38 L363.26,314.43 L366.63,307.22 L370.00,303.29" fill="none" stroke="#1ec41e" stroke-width="1.1" stroke-linejoin="round"/>
<circle cx="279.00" cy="345.01" r="1.45" fill="#1ec41e"/>
<circle cx="282.37" cy="345.93" r="1.45" fill="#1ec41e"/>
<circle cx="285.74" cy="347.07" r="1.45" fill="#1ec41e"/>
<circle cx="289.11" cy="348.21" r="1.45" fill="#1ec41e"/>
<circle cx="292.48" cy="349.12" r="1.45" fill="#1ec41e"/>
<circle cx="295.85" cy="350.04" r="1.45" fill="#1ec41e"/>
<circle cx="299.22" cy="350.49" r="1.45" fill="#1ec41e"/>
<circle cx="302.59" cy="350.95" r="1.45" fill="#1ec41e"/>
<circle cx="305.96" cy="350.49" r="1.45" fill="#1ec41e"/>
<circle cx="309.33" cy="350.95" r="1.45" fill="#1ec41e"/>
<circle cx="312.70" cy="351.40" r="1.45" fill="#1ec41e"/>
<circle cx="316.08" cy="350.95" r="1.45" fill="#1ec41e"/>
<circle cx="319.45" cy="350.49" r="1.45" fill="#1ec41e"/>
<circle cx="322.82" cy="350.95" r="1.45" fill="#1ec41e"/>
<circle cx="326.19" cy="350.04" r="1.45" fill="#1ec41e"/>
<circle cx="329.56" cy="350.49" r="1.45" fill="#1ec41e"/>
<circle cx="332.93" cy="350.04" r="1.45" fill="#1ec41e"/>
<circle cx="336.30" cy="349.58" r="1.45" fill="#1ec41e"/>
<circle cx="339.67" cy="348.67" r="1.45" fill="#1ec41e"/>
<circle cx="343.04" cy="346.38" r="1.45" fill="#1ec41e"/>
<circle cx="346.41" cy="341.82" r="1.45" fill="#1ec41e"/>
<circle cx="349.78" cy="336.02" r="1.45" fill="#1ec41e"/>
<circle cx="353.15" cy="331.78" r="1.45" fill="#1ec41e"/>
<circle cx="356.52" cy="322.19" r="1.45" fill="#1ec41e"/>
<circle cx="359.89" cy="325.38" r="1.45" fill="#1ec41e"/>
<circle cx="363.26" cy="314.43" r="1.45" fill="#1ec41e"/>
<circle cx="366.63" cy="307.22" r="1.45" fill="#1ec41e"/>
<circle cx="370.00" cy="303.29" r="1.45" fill="#1ec41e"/>
<path d="M279.00,345.47 L282.37,346.38 L285.74,347.30 L289.11,348.44 L292.48,349.35 L295.85,350.04 L299.22,350.49 L302.59,350.72 L305.96,350.95 L309.33,351.18 L312.70,351.40 L316.08,351.40 L319.45,351.18 L322.82,350.95 L326.19,350.72 L329.56,350.49 L332.93,350.04 L336.30,349.58 L339.67,349.12 L343.04,347.75 L346.41,345.47 L349.78,344.10 L353.15,342.09 L356.52,338.81 L359.89,331.59 L363.26,323.79 L366.63,319.40 L370.00,317.21 L373.37,313.29 L376.74,310.50 L380.12,304.38 L383.49,286.81" fill="none" stroke="#1ec41e" stroke-width="1.1" stroke-linejoin="round"/>
<circle cx="279.00" cy="345.47" r="1.45" fill="#1ec41e"/>
<circle cx="282.37" cy="346.38" r="1.45" fill="#1ec41e"/>
<circle cx="285.74" cy="347.30" r="1.45" fill="#1ec41e"/>
<circle cx="289.11" cy="348.44" r="1.45" fill="#1ec41e"/>
<circle cx="292.48" cy="349.35" r="1.45" fill="#1ec41e"/>
<circle cx="295.85" cy="350.04" r="1.45" fill="#1ec41e"/>
<circle cx="299.22" cy="350.49" r="1.45" fill="#1ec41e"/>
<circle cx="302.59" cy="350.72" r="1.45" fill="#1ec41e"/>
<circle cx="305.96" cy="350.95" r="1.45" fill="#1ec41e"/>
<circle cx="309.33" cy="351.18" r="1.45" fill="#1ec41e"/>
<circle cx="312.70" cy="351.40" r="1.45" fill="#1ec41e"/>
<circle cx="316.08" cy="351.40" r="1.45" fill="#1ec41e"/>
<circle cx="319.45" cy="351.18" r="1.45" fill="#1ec41e"/>
<circle cx="322.82" cy="350.95" r="1.45" fill="#1ec41e"/>
<circle cx="326.19" cy="350.72" r="1.45" fill="#1ec41e"/>
<circle cx="329.56" cy="350.49" r="1.45" fill="#1ec41e"/>
<circle cx="332.93" cy="350.04" r="1.45" fill="#1ec41e"/>
<circle cx="336.30" cy="349.58" r="1.45" fill="#1ec41e"/>
<circle cx="339.67" cy="349.12" r="1.45" fill="#1ec41e"/>
<circle cx="343.04" cy="347.75" r="1.45" fill="#1ec41e"/>
<circle cx="346.41" cy="345.47" r="1.45" fill="#1ec41e"/>
<circle cx="349.78" cy="344.10" r="1.45" fill="#1ec41e"/>
<circle cx="353.15" cy="342.09" r="1.45" fill="#1ec41e"/>
<circle cx="356.52" cy="338.81" r="1.45" fill="#1ec41e"/>
<circle cx="359.89" cy="331.59" r="1.45" fill="#1ec41e"/>
<circle cx="363.26" cy="323.79" r="1.45" fill="#1ec41e"/>
<circle cx="366.63" cy="319.40" r="1.45" fill="#1ec41e"/>
<circle cx="370.00" cy="317.21" r="1.45" fill="#1ec41e"/>
<circle cx="373.37" cy="313.29" r="1.45" fill="#1ec41e"/>
<circle cx="376.74" cy="310.50" r="1.45" fill="#1ec41e"/>
<circle cx="380.12" cy="304.38" r="1.45" fill="#1ec41e"/>
<circle cx="383.49" cy="286.81" r="1.45" fill="#1ec41e"/>
<path d="M279.00,345.93 L282.37,346.61 L285.74,347.30 L289.11,348.67 L292.48,349.58 L295.85,350.26 L299.22,350.72 L302.59,350.95 L305.96,351.18 L309.33,351.40 L312.70,351.40 L316.08,351.18 L319.45,350.95 L322.82,351.40 L326.19,350.95 L329.56,350.49 L332.93,350.04 L336.30,349.58 L339.67,349.12 L343.04,348.21 L346.41,346.84 L349.78,344.92 L353.15,340.91 L356.52,337.25 L359.89,335.43 L363.26,332.19 L366.63,333.28 L370.00,326.11 L373.37,326.62 L376.74,320.00 L380.12,316.62 L383.49,313.29 L386.86,308.77 L390.23,310.05 L393.60,302.65" fill="none" stroke="#1ec41e" stroke-width="1.1" stroke-linejoin="round"/>
<circle cx="279.00" cy="345.93" r="1.45" fill="#1ec41e"/>
<circle cx="282.37" cy="346.61" r="1.45" fill="#1ec41e"/>
<circle cx="285.74" cy="347.30" r="1.45" fill="#1ec41e"/>
<circle cx="289.11" cy="348.67" r="1.45" fill="#1ec41e"/>
<circle cx="292.48" cy="349.58" r="1.45" fill="#1ec41e"/>
<circle cx="295.85" cy="350.26" r="1.45" fill="#1ec41e"/>
<circle cx="299.22" cy="350.72" r="1.45" fill="#1ec41e"/>
<circle cx="302.59" cy="350.95" r="1.45" fill="#1ec41e"/>
<circle cx="305.96" cy="351.18" r="1.45" fill="#1ec41e"/>
<circle cx="309.33" cy="351.40" r="1.45" fill="#1ec41e"/>
<circle cx="312.70" cy="351.40" r="1.45" fill="#1ec41e"/>
<circle cx="316.08" cy="351.18" r="1.45" fill="#1ec41e"/>
<circle cx="319.45" cy="350.95" r="1.45" fill="#1ec41e"/>
<circle cx="322.82" cy="351.40" r="1.45" fill="#1ec41e"/>
<circle cx="326.19" cy="350.95" r="1.45" fill="#1ec41e"/>
<circle cx="329.56" cy="350.49" r="1.45" fill="#1ec41e"/>
<circle cx="332.93" cy="350.04" r="1.45" fill="#1ec41e"/>
<circle cx="336.30" cy="349.58" r="1.45" fill="#1ec41e"/>
<circle cx="339.67" cy="349.12" r="1.45" fill="#1ec41e"/>
<circle cx="343.04" cy="348.21" r="1.45" fill="#1ec41e"/>
<circle cx="346.41" cy="346.84" r="1.45" fill="#1ec41e"/>
<circle cx="349.78" cy="344.92" r="1.45" fill="#1ec41e"/>
<circle cx="353.15" cy="340.91" r="1.45" fill="#1ec41e"/>
<circle cx="356.52" cy="337.25" r="1.45" fill="#1ec41e"/>
<circle cx="359.89" cy="335.43" r="1.45" fill="#1ec41e"/>
<circle cx="363.26" cy="332.19" r="1.45" fill="#1ec41e"/>
<circle cx="366.63" cy="333.28" r="1.45" fill="#1ec41e"/>
<circle cx="370.00" cy="326.11" r="1.45" fill="#1ec41e"/>
<circle cx="373.37" cy="326.62" r="1.45" fill="#1ec41e"/>
<circle cx="376.74" cy="320.00" r="1.45" fill="#1ec41e"/>
<circle cx="380.12" cy="316.62" r="1.45" fill="#1ec41e"/>
<circle cx="383.49" cy="313.29" r="1.45" fill="#1ec41e"/>
<circle cx="386.86" cy="308.77" r="1.45" fill="#1ec41e"/>
<circle cx="390.23" cy="310.05" r="1.45" fill="#1ec41e"/>
<circle cx="393.60" cy="302.65" r="1.45" fill="#1ec41e"/>
<text x="334.2" y="379.6" font-size="7.2" font-weight="bold" fill="#000" textLength="17.1" lengthAdjust="spacingAndGlyphs" >Days</text>
<text x="298.1" y="266.1" font-size="8.6" font-weight="bold" fill="#000" textLength="71.2" lengthAdjust="spacingAndGlyphs" >PDAC032T - Gem</text>
<text x="279.6" y="277.6" font-size="7.2" font-weight="bold" fill="#000" textLength="35.5" lengthAdjust="spacingAndGlyphs" >Treatment</text>
<text x="325.8" y="277.6" font-size="7.2" font-weight="bold" fill="#000" textLength="27.2" lengthAdjust="spacingAndGlyphs" >Relapse</text>
<rect x="430.90" y="264.30" width="13.20" height="14.50" fill="#b3e0b3" stroke="none" stroke-width="1" />
<rect x="430.90" y="280.60" width="13.20" height="14.40" fill="#00c000" stroke="none" stroke-width="1" />
<text x="448.8" y="274.6" font-size="7.6" font-weight="bold" fill="#000" textLength="89.2" lengthAdjust="spacingAndGlyphs" >PDAC032T Control (n=5)</text>
<text x="448.8" y="292.4" font-size="7.6" font-weight="bold" fill="#000" textLength="89.2" lengthAdjust="spacingAndGlyphs" >PDAC032T Relapse (n=6)</text>
<text x="0.8" y="401.0" font-size="16.6" font-weight="bold" fill="#000" textLength="10.8" lengthAdjust="spacingAndGlyphs" >C</text>
<rect x="77.20" y="467.42" width="16.20" height="48.58" fill="#c6dcf6" stroke="none" stroke-width="1" />
<rect x="101.20" y="444.59" width="16.10" height="71.41" fill="#0000f0" stroke="none" stroke-width="1" />
<rect x="125.30" y="460.78" width="16.10" height="55.22" fill="#b3e0b3" stroke="none" stroke-width="1" />
<rect x="149.40" y="444.59" width="16.20" height="71.41" fill="#00be00" stroke="none" stroke-width="1" />
<line x1="85.30" y1="462.85" x2="85.30" y2="471.99" stroke="#1a1a1a" stroke-width="0.95" />
<line x1="81.30" y1="462.85" x2="89.30" y2="462.85" stroke="#1a1a1a" stroke-width="1.0" />
<line x1="81.30" y1="471.99" x2="89.30" y2="471.99" stroke="#1a1a1a" stroke-width="1.0" />
<line x1="109.25" y1="432.54" x2="109.25" y2="456.63" stroke="#1a1a1a" stroke-width="0.95" />
<line x1="105.25" y1="432.54" x2="113.25" y2="432.54" stroke="#1a1a1a" stroke-width="1.0" />
<line x1="105.25" y1="456.63" x2="113.25" y2="456.63" stroke="#1a1a1a" stroke-width="1.0" />
<line x1="133.35" y1="457.46" x2="133.35" y2="464.10" stroke="#1a1a1a" stroke-width="0.95" />
<line x1="129.35" y1="457.46" x2="137.35" y2="457.46" stroke="#1a1a1a" stroke-width="1.0" />
<line x1="129.35" y1="464.10" x2="137.35" y2="464.10" stroke="#1a1a1a" stroke-width="1.0" />
<line x1="157.50" y1="432.96" x2="157.50" y2="455.38" stroke="#1a1a1a" stroke-width="0.95" />
<line x1="153.50" y1="432.96" x2="161.50" y2="432.96" stroke="#1a1a1a" stroke-width="1.0" />
<line x1="153.50" y1="455.38" x2="161.50" y2="455.38" stroke="#1a1a1a" stroke-width="1.0" />
<circle cx="79.70" cy="461.30" r="2.35" fill="#000"/>
<circle cx="87.20" cy="459.90" r="2.35" fill="#000"/>
<circle cx="91.40" cy="462.20" r="2.35" fill="#000"/>
<circle cx="79.70" cy="465.70" r="2.35" fill="#000"/>
<circle cx="83.20" cy="465.70" r="2.35" fill="#000"/>
<circle cx="87.60" cy="466.20" r="2.35" fill="#000"/>
<circle cx="91.90" cy="467.40" r="2.35" fill="#000"/>
<circle cx="82.30" cy="471.00" r="2.35" fill="#000"/>
<circle cx="87.60" cy="471.80" r="2.35" fill="#000"/>
<circle cx="85.30" cy="477.40" r="2.35" fill="#000"/>
<circle cx="109.40" cy="425.10" r="2.35" fill="#000"/>
<circle cx="103.50" cy="437.70" r="2.35" fill="#000"/>
<circle cx="109.40" cy="441.20" r="2.35" fill="#000"/>
<circle cx="109.40" cy="452.50" r="2.35" fill="#000"/>
<circle cx="115.20" cy="453.90" r="2.35" fill="#000"/>
<circle cx="103.50" cy="456.90" r="2.35" fill="#000"/>
<circle cx="127.30" cy="458.20" r="2.35" fill="#000"/>
<circle cx="132.80" cy="458.80" r="2.35" fill="#000"/>
<circle cx="139.30" cy="458.80" r="2.35" fill="#000"/>
<circle cx="134.70" cy="461.90" r="2.35" fill="#000"/>
<circle cx="133.40" cy="467.50" r="2.35" fill="#000"/>
<circle cx="157.40" cy="431.40" r="2.35" fill="#000"/>
<circle cx="151.90" cy="438.80" r="2.35" fill="#000"/>
<circle cx="157.80" cy="437.90" r="2.35" fill="#000"/>
<circle cx="163.30" cy="442.10" r="2.35" fill="#000"/>
<circle cx="157.80" cy="454.50" r="2.35" fill="#000"/>
<circle cx="157.80" cy="461.00" r="2.35" fill="#000"/>
<line x1="73.20" y1="411.60" x2="73.20" y2="516.60" stroke="#111" stroke-width="1.25" />
<line x1="72.60" y1="516.00" x2="169.00" y2="516.00" stroke="#111" stroke-width="1.25" />
<line x1="70.00" y1="516.00" x2="73.20" y2="516.00" stroke="#111" stroke-width="1.1" />
<text x="68.4" y="519.1" font-size="8.6" font-weight="bold" fill="#000" text-anchor="end" >0</text>
<line x1="70.00" y1="495.24" x2="73.20" y2="495.24" stroke="#111" stroke-width="1.1" />
<text x="68.4" y="498.3" font-size="8.6" font-weight="bold" fill="#000" text-anchor="end" >50</text>
<line x1="70.00" y1="474.48" x2="73.20" y2="474.48" stroke="#111" stroke-width="1.1" />
<text x="68.4" y="477.6" font-size="8.6" font-weight="bold" fill="#000" text-anchor="end" >100</text>
<line x1="70.00" y1="453.72" x2="73.20" y2="453.72" stroke="#111" stroke-width="1.1" />
<text x="68.4" y="456.8" font-size="8.6" font-weight="bold" fill="#000" text-anchor="end" >150</text>
<line x1="70.00" y1="432.96" x2="73.20" y2="432.96" stroke="#111" stroke-width="1.1" />
<text x="68.4" y="436.1" font-size="8.6" font-weight="bold" fill="#000" text-anchor="end" >200</text>
<line x1="70.00" y1="412.20" x2="73.20" y2="412.20" stroke="#111" stroke-width="1.1" />
<text x="68.4" y="415.3" font-size="8.6" font-weight="bold" fill="#000" text-anchor="end" >250</text>
<line x1="85.30" y1="418.30" x2="109.60" y2="418.30" stroke="#4a4a4a" stroke-width="1.0" />
<line x1="85.30" y1="415.70" x2="85.30" y2="420.90" stroke="#4a4a4a" stroke-width="1.0" />
<line x1="109.60" y1="415.70" x2="109.60" y2="420.90" stroke="#4a4a4a" stroke-width="1.0" />
<text x="85.98" y="417.53" font-size="13" font-weight="bold" fill="#111" stroke="#111" stroke-width="0.35" letter-spacing="0.94">****</text>
<line x1="133.80" y1="424.40" x2="157.40" y2="424.40" stroke="#4a4a4a" stroke-width="1.0" />
<line x1="133.80" y1="421.80" x2="133.80" y2="427.00" stroke="#4a4a4a" stroke-width="1.0" />
<line x1="157.40" y1="421.80" x2="157.40" y2="427.00" stroke="#4a4a4a" stroke-width="1.0" />
<text x="143.13" y="423.63" font-size="13" font-weight="bold" fill="#111" stroke="#111" stroke-width="0.35" letter-spacing="0.94">*</text>
<text x="103.9" y="398.9" font-size="9.0" font-weight="bold" fill="#000" textLength="42.7" lengthAdjust="spacingAndGlyphs" >Mito mass</text>
<text transform="translate(47.4,462.9) rotate(-90)" font-size="10.2" font-weight="bold" text-anchor="middle" fill="#000" textLength="60" lengthAdjust="spacingAndGlyphs">Relative MFI</text>
<rect x="199.10" y="493.53" width="16.10" height="22.47" fill="#c6dcf6" stroke="none" stroke-width="1" />
<rect x="223.00" y="457.48" width="16.10" height="58.52" fill="#0000f0" stroke="none" stroke-width="1" />
<rect x="247.30" y="496.14" width="16.10" height="19.86" fill="#b3e0b3" stroke="none" stroke-width="1" />
<rect x="271.10" y="470.54" width="16.30" height="45.46" fill="#00be00" stroke="none" stroke-width="1" />
<line x1="207.15" y1="485.69" x2="207.15" y2="501.37" stroke="#1a1a1a" stroke-width="0.95" />
<line x1="203.15" y1="485.69" x2="211.15" y2="485.69" stroke="#1a1a1a" stroke-width="1.0" />
<line x1="203.15" y1="501.37" x2="211.15" y2="501.37" stroke="#1a1a1a" stroke-width="1.0" />
<line x1="231.05" y1="440.76" x2="231.05" y2="474.20" stroke="#1a1a1a" stroke-width="0.95" />
<line x1="227.05" y1="440.76" x2="235.05" y2="440.76" stroke="#1a1a1a" stroke-width="1.0" />
<line x1="227.05" y1="474.20" x2="235.05" y2="474.20" stroke="#1a1a1a" stroke-width="1.0" />
<line x1="255.35" y1="489.88" x2="255.35" y2="503.46" stroke="#1a1a1a" stroke-width="0.95" />
<line x1="251.35" y1="489.88" x2="259.35" y2="489.88" stroke="#1a1a1a" stroke-width="1.0" />
<line x1="251.35" y1="503.46" x2="259.35" y2="503.46" stroke="#1a1a1a" stroke-width="1.0" />
<line x1="279.25" y1="462.70" x2="279.25" y2="479.43" stroke="#1a1a1a" stroke-width="0.95" />
<line x1="275.25" y1="462.70" x2="283.25" y2="462.70" stroke="#1a1a1a" stroke-width="1.0" />
<line x1="275.25" y1="479.43" x2="283.25" y2="479.43" stroke="#1a1a1a" stroke-width="1.0" />
<circle cx="207.10" cy="481.90" r="2.35" fill="#000"/>
<circle cx="201.60" cy="499.40" r="2.35" fill="#000"/>
<circle cx="207.10" cy="495.50" r="2.35" fill="#000"/>
<circle cx="212.70" cy="496.10" r="2.35" fill="#000"/>
<circle cx="225.30" cy="448.50" r="2.35" fill="#000"/>
<circle cx="237.00" cy="445.00" r="2.35" fill="#000"/>
<circle cx="231.10" cy="454.30" r="2.35" fill="#000"/>
<circle cx="231.10" cy="481.90" r="2.35" fill="#000"/>
<circle cx="249.60" cy="491.20" r="2.35" fill="#000"/>
<circle cx="255.40" cy="490.80" r="2.35" fill="#000"/>
<circle cx="261.20" cy="491.20" r="2.35" fill="#000"/>
<circle cx="252.50" cy="504.80" r="2.35" fill="#000"/>
<circle cx="257.90" cy="502.90" r="2.35" fill="#000"/>
<circle cx="278.90" cy="456.70" r="2.35" fill="#000"/>
<circle cx="273.50" cy="470.80" r="2.35" fill="#000"/>
<circle cx="278.90" cy="472.80" r="2.35" fill="#000"/>
<circle cx="285.10" cy="471.40" r="2.35" fill="#000"/>
<circle cx="282.20" cy="477.60" r="2.35" fill="#000"/>
<circle cx="276.40" cy="480.60" r="2.35" fill="#000"/>
<line x1="195.30" y1="410.90" x2="195.30" y2="516.60" stroke="#111" stroke-width="1.25" />
<line x1="194.70" y1="516.00" x2="291.80" y2="516.00" stroke="#111" stroke-width="1.25" />
<line x1="192.10" y1="516.00" x2="195.30" y2="516.00" stroke="#111" stroke-width="1.1" />
<text x="190.5" y="519.1" font-size="8.6" font-weight="bold" fill="#000" text-anchor="end" >0</text>
<line x1="192.10" y1="489.88" x2="195.30" y2="489.88" stroke="#111" stroke-width="1.1" />
<text x="190.5" y="493.0" font-size="8.6" font-weight="bold" fill="#000" text-anchor="end" >5</text>
<line x1="192.10" y1="463.75" x2="195.30" y2="463.75" stroke="#111" stroke-width="1.1" />
<text x="190.5" y="466.8" font-size="8.6" font-weight="bold" fill="#000" text-anchor="end" >10</text>
<line x1="192.10" y1="437.62" x2="195.30" y2="437.62" stroke="#111" stroke-width="1.1" />
<text x="190.5" y="440.7" font-size="8.6" font-weight="bold" fill="#000" text-anchor="end" >15</text>
<line x1="192.10" y1="411.50" x2="195.30" y2="411.50" stroke="#111" stroke-width="1.1" />
<text x="190.5" y="414.6" font-size="8.6" font-weight="bold" fill="#000" text-anchor="end" >20</text>
<line x1="207.10" y1="435.30" x2="231.10" y2="435.30" stroke="#4a4a4a" stroke-width="1.0" />
<line x1="207.10" y1="432.70" x2="207.10" y2="437.90" stroke="#4a4a4a" stroke-width="1.0" />
<line x1="231.10" y1="432.70" x2="231.10" y2="437.90" stroke="#4a4a4a" stroke-width="1.0" />
<text x="213.63" y="434.53" font-size="13" font-weight="bold" fill="#111" stroke="#111" stroke-width="0.35" letter-spacing="0.94">**</text>
<line x1="255.40" y1="449.50" x2="279.30" y2="449.50" stroke="#4a4a4a" stroke-width="1.0" />
<line x1="255.40" y1="446.90" x2="255.40" y2="452.10" stroke="#4a4a4a" stroke-width="1.0" />
<line x1="279.30" y1="446.90" x2="279.30" y2="452.10" stroke="#4a4a4a" stroke-width="1.0" />
<text x="258.88" y="448.73" font-size="13" font-weight="bold" fill="#111" stroke="#111" stroke-width="0.35" letter-spacing="0.94">***</text>
<text x="233.9" y="400.2" font-size="8.4" font-weight="bold" fill="#000" textLength="19.2" lengthAdjust="spacingAndGlyphs" >MMP</text>
<rect x="320.70" y="450.75" width="16.10" height="65.25" fill="#c6dcf6" stroke="none" stroke-width="1" />
<rect x="344.90" y="433.00" width="16.00" height="83.00" fill="#0000f0" stroke="none" stroke-width="1" />
<rect x="369.20" y="495.64" width="15.90" height="20.36" fill="#b3e0b3" stroke="none" stroke-width="1" />
<rect x="393.10" y="467.98" width="15.90" height="48.02" fill="#00be00" stroke="none" stroke-width="1" />
<line x1="328.75" y1="441.88" x2="328.75" y2="459.62" stroke="#1a1a1a" stroke-width="0.95" />
<line x1="324.75" y1="441.88" x2="332.75" y2="441.88" stroke="#1a1a1a" stroke-width="1.0" />
<line x1="324.75" y1="459.62" x2="332.75" y2="459.62" stroke="#1a1a1a" stroke-width="1.0" />
<line x1="352.90" y1="418.91" x2="352.90" y2="446.57" stroke="#1a1a1a" stroke-width="0.95" />
<line x1="348.90" y1="418.91" x2="356.90" y2="418.91" stroke="#1a1a1a" stroke-width="1.0" />
<line x1="348.90" y1="446.57" x2="356.90" y2="446.57" stroke="#1a1a1a" stroke-width="1.0" />
<line x1="377.15" y1="490.94" x2="377.15" y2="500.34" stroke="#1a1a1a" stroke-width="0.95" />
<line x1="373.15" y1="490.94" x2="381.15" y2="490.94" stroke="#1a1a1a" stroke-width="1.0" />
<line x1="373.15" y1="500.34" x2="381.15" y2="500.34" stroke="#1a1a1a" stroke-width="1.0" />
<line x1="401.05" y1="453.36" x2="401.05" y2="482.59" stroke="#1a1a1a" stroke-width="0.95" />
<line x1="397.05" y1="453.36" x2="405.05" y2="453.36" stroke="#1a1a1a" stroke-width="1.0" />
<line x1="397.05" y1="482.59" x2="405.05" y2="482.59" stroke="#1a1a1a" stroke-width="1.0" />
<circle cx="322.60" cy="438.40" r="2.35" fill="#000"/>
<circle cx="334.30" cy="439.40" r="2.35" fill="#000"/>
<circle cx="322.60" cy="444.60" r="2.35" fill="#000"/>
<circle cx="328.80" cy="442.30" r="2.35" fill="#000"/>
<circle cx="322.60" cy="450.10" r="2.35" fill="#000"/>
<circle cx="328.80" cy="452.00" r="2.35" fill="#000"/>
<circle cx="322.60" cy="455.90" r="2.35" fill="#000"/>
<circle cx="334.70" cy="457.60" r="2.35" fill="#000"/>
<circle cx="326.10" cy="463.10" r="2.35" fill="#000"/>
<circle cx="331.40" cy="463.10" r="2.35" fill="#000"/>
<circle cx="352.70" cy="416.90" r="2.35" fill="#000"/>
<circle cx="352.70" cy="422.70" r="2.35" fill="#000"/>
<circle cx="346.90" cy="429.10" r="2.35" fill="#000"/>
<circle cx="358.50" cy="428.70" r="2.35" fill="#000"/>
<circle cx="346.90" cy="450.90" r="2.35" fill="#000"/>
<circle cx="358.50" cy="448.10" r="2.35" fill="#000"/>
<circle cx="377.00" cy="487.70" r="2.35" fill="#000"/>
<circle cx="377.00" cy="492.80" r="2.35" fill="#000"/>
<circle cx="371.10" cy="499.40" r="2.35" fill="#000"/>
<circle cx="377.00" cy="498.00" r="2.35" fill="#000"/>
<circle cx="382.20" cy="499.00" r="2.35" fill="#000"/>
<circle cx="402.80" cy="447.20" r="2.35" fill="#000"/>
<circle cx="398.90" cy="451.40" r="2.35" fill="#000"/>
<circle cx="398.90" cy="474.30" r="2.35" fill="#000"/>
<circle cx="395.00" cy="478.60" r="2.35" fill="#000"/>
<circle cx="402.20" cy="478.00" r="2.35" fill="#000"/>
<circle cx="406.70" cy="477.10" r="2.35" fill="#000"/>
<line x1="316.70" y1="411.00" x2="316.70" y2="516.60" stroke="#111" stroke-width="1.25" />
<line x1="316.10" y1="516.00" x2="413.30" y2="516.00" stroke="#111" stroke-width="1.25" />
<line x1="313.50" y1="516.00" x2="316.70" y2="516.00" stroke="#111" stroke-width="1.1" />
<text x="311.9" y="519.1" font-size="8.6" font-weight="bold" fill="#000" text-anchor="end" >0</text>
<line x1="313.50" y1="489.90" x2="316.70" y2="489.90" stroke="#111" stroke-width="1.1" />
<text x="311.9" y="493.0" font-size="8.6" font-weight="bold" fill="#000" text-anchor="end" >5</text>
<line x1="313.50" y1="463.80" x2="316.70" y2="463.80" stroke="#111" stroke-width="1.1" />
<text x="311.9" y="466.9" font-size="8.6" font-weight="bold" fill="#000" text-anchor="end" >10</text>
<line x1="313.50" y1="437.70" x2="316.70" y2="437.70" stroke="#111" stroke-width="1.1" />
<text x="311.9" y="440.8" font-size="8.6" font-weight="bold" fill="#000" text-anchor="end" >15</text>
<line x1="313.50" y1="411.60" x2="316.70" y2="411.60" stroke="#111" stroke-width="1.1" />
<text x="311.9" y="414.7" font-size="8.6" font-weight="bold" fill="#000" text-anchor="end" >20</text>
<line x1="328.40" y1="411.30" x2="352.70" y2="411.30" stroke="#4a4a4a" stroke-width="1.0" />
<line x1="328.40" y1="408.70" x2="328.40" y2="413.90" stroke="#4a4a4a" stroke-width="1.0" />
<line x1="352.70" y1="408.70" x2="352.70" y2="413.90" stroke="#4a4a4a" stroke-width="1.0" />
<text x="335.08" y="410.53" font-size="13" font-weight="bold" fill="#111" stroke="#111" stroke-width="0.35" letter-spacing="0.94">**</text>
<line x1="376.60" y1="441.30" x2="400.60" y2="441.30" stroke="#4a4a4a" stroke-width="1.0" />
<line x1="376.60" y1="438.70" x2="376.60" y2="443.90" stroke="#4a4a4a" stroke-width="1.0" />
<line x1="400.60" y1="438.70" x2="400.60" y2="443.90" stroke="#4a4a4a" stroke-width="1.0" />
<text x="383.13" y="440.53" font-size="13" font-weight="bold" fill="#111" stroke="#111" stroke-width="0.35" letter-spacing="0.94">**</text>
<text x="348.9" y="397.6" font-size="9.0" font-weight="bold" fill="#000" textLength="39.1" lengthAdjust="spacingAndGlyphs" >Mito O2.-</text>
<rect x="442.00" y="488.43" width="16.00" height="25.87" fill="#c6dcf6" stroke="none" stroke-width="1" />
<rect x="465.90" y="439.62" width="16.00" height="74.68" fill="#0000f0" stroke="none" stroke-width="1" />
<rect x="489.90" y="500.95" width="16.00" height="13.35" fill="#b3e0b3" stroke="none" stroke-width="1" />
<rect x="513.90" y="473.00" width="15.90" height="41.30" fill="#00be00" stroke="none" stroke-width="1" />
<line x1="450.00" y1="483.43" x2="450.00" y2="495.94" stroke="#1a1a1a" stroke-width="0.95" />
<line x1="446.00" y1="483.43" x2="454.00" y2="483.43" stroke="#1a1a1a" stroke-width="1.0" />
<line x1="446.00" y1="495.94" x2="454.00" y2="495.94" stroke="#1a1a1a" stroke-width="1.0" />
<line x1="473.90" y1="420.85" x2="473.90" y2="457.98" stroke="#1a1a1a" stroke-width="0.95" />
<line x1="469.90" y1="420.85" x2="477.90" y2="420.85" stroke="#1a1a1a" stroke-width="1.0" />
<line x1="469.90" y1="457.98" x2="477.90" y2="457.98" stroke="#1a1a1a" stroke-width="1.0" />
<line x1="497.90" y1="499.28" x2="497.90" y2="503.04" stroke="#1a1a1a" stroke-width="0.95" />
<line x1="493.90" y1="499.28" x2="501.90" y2="499.28" stroke="#1a1a1a" stroke-width="1.0" />
<line x1="493.90" y1="503.04" x2="501.90" y2="503.04" stroke="#1a1a1a" stroke-width="1.0" />
<line x1="521.85" y1="464.24" x2="521.85" y2="480.92" stroke="#1a1a1a" stroke-width="0.95" />
<line x1="517.85" y1="464.24" x2="525.85" y2="464.24" stroke="#1a1a1a" stroke-width="1.0" />
<line x1="517.85" y1="480.92" x2="525.85" y2="480.92" stroke="#1a1a1a" stroke-width="1.0" />
<circle cx="450.00" cy="476.90" r="2.35" fill="#000"/>
<circle cx="444.00" cy="486.80" r="2.35" fill="#000"/>
<circle cx="448.60" cy="487.20" r="2.35" fill="#000"/>
<circle cx="455.60" cy="485.20" r="2.35" fill="#000"/>
<circle cx="444.00" cy="491.80" r="2.35" fill="#000"/>
<circle cx="450.00" cy="490.80" r="2.35" fill="#000"/>
<circle cx="455.60" cy="490.40" r="2.35" fill="#000"/>
<circle cx="444.00" cy="497.40" r="2.35" fill="#000"/>
<circle cx="451.00" cy="495.40" r="2.35" fill="#000"/>
<circle cx="456.00" cy="495.40" r="2.35" fill="#000"/>
<circle cx="467.90" cy="425.00" r="2.35" fill="#000"/>
<circle cx="473.90" cy="426.00" r="2.35" fill="#000"/>
<circle cx="479.90" cy="426.40" r="2.35" fill="#000"/>
<circle cx="473.90" cy="433.50" r="2.35" fill="#000"/>
<circle cx="470.90" cy="463.50" r="2.35" fill="#000"/>
<circle cx="476.90" cy="463.50" r="2.35" fill="#000"/>
<circle cx="491.90" cy="497.80" r="2.35" fill="#000"/>
<circle cx="491.90" cy="503.40" r="2.35" fill="#000"/>
<circle cx="496.50" cy="503.20" r="2.35" fill="#000"/>
<circle cx="500.90" cy="503.40" r="2.35" fill="#000"/>
<circle cx="503.90" cy="502.80" r="2.35" fill="#000"/>
<circle cx="521.80" cy="458.50" r="2.35" fill="#000"/>
<circle cx="515.90" cy="469.50" r="2.35" fill="#000"/>
<circle cx="527.80" cy="471.50" r="2.35" fill="#000"/>
<circle cx="521.80" cy="474.90" r="2.35" fill="#000"/>
<circle cx="515.90" cy="481.50" r="2.35" fill="#000"/>
<circle cx="527.80" cy="479.90" r="2.35" fill="#000"/>
<line x1="437.50" y1="409.40" x2="437.50" y2="514.90" stroke="#111" stroke-width="1.25" />
<line x1="436.90" y1="514.30" x2="534.80" y2="514.30" stroke="#111" stroke-width="1.25" />
<line x1="434.30" y1="514.30" x2="437.50" y2="514.30" stroke="#111" stroke-width="1.1" />
<text x="432.7" y="517.4" font-size="8.6" font-weight="bold" fill="#000" text-anchor="end" >0</text>
<line x1="434.30" y1="493.44" x2="437.50" y2="493.44" stroke="#111" stroke-width="1.1" />
<text x="432.7" y="496.5" font-size="8.6" font-weight="bold" fill="#000" text-anchor="end" >50</text>
<line x1="434.30" y1="472.58" x2="437.50" y2="472.58" stroke="#111" stroke-width="1.1" />
<text x="432.7" y="475.7" font-size="8.6" font-weight="bold" fill="#000" text-anchor="end" >100</text>
<line x1="434.30" y1="451.72" x2="437.50" y2="451.72" stroke="#111" stroke-width="1.1" />
<text x="432.7" y="454.8" font-size="8.6" font-weight="bold" fill="#000" text-anchor="end" >150</text>
<line x1="434.30" y1="430.86" x2="437.50" y2="430.86" stroke="#111" stroke-width="1.1" />
<text x="432.7" y="434.0" font-size="8.6" font-weight="bold" fill="#000" text-anchor="end" >200</text>
<line x1="434.30" y1="410.00" x2="437.50" y2="410.00" stroke="#111" stroke-width="1.1" />
<text x="432.7" y="413.1" font-size="8.6" font-weight="bold" fill="#000" text-anchor="end" >250</text>
<line x1="449.40" y1="416.40" x2="473.90" y2="416.40" stroke="#4a4a4a" stroke-width="1.0" />
<line x1="449.40" y1="413.80" x2="449.40" y2="419.00" stroke="#4a4a4a" stroke-width="1.0" />
<line x1="473.90" y1="413.80" x2="473.90" y2="419.00" stroke="#4a4a4a" stroke-width="1.0" />
<text x="450.18" y="415.63" font-size="13" font-weight="bold" fill="#111" stroke="#111" stroke-width="0.35" letter-spacing="0.94">****</text>
<line x1="497.50" y1="451.90" x2="522.40" y2="451.90" stroke="#4a4a4a" stroke-width="1.0" />
<line x1="497.50" y1="449.30" x2="497.50" y2="454.50" stroke="#4a4a4a" stroke-width="1.0" />
<line x1="522.40" y1="449.30" x2="522.40" y2="454.50" stroke="#4a4a4a" stroke-width="1.0" />
<text x="498.48" y="451.13" font-size="13" font-weight="bold" fill="#111" stroke="#111" stroke-width="0.35" letter-spacing="0.94">****</text>
<text x="466.4" y="395.3" font-size="9.0" font-weight="bold" fill="#000" textLength="42.4" lengthAdjust="spacingAndGlyphs" >Total ROS</text>
<text x="1.1" y="555.0" font-size="16.6" font-weight="bold" fill="#000" textLength="10.8" lengthAdjust="spacingAndGlyphs" >D</text>
<rect x="90.80" y="643.91" width="16.00" height="14.49" fill="#c6dcf6" stroke="none" stroke-width="1" />
<rect x="114.20" y="629.74" width="16.00" height="28.66" fill="#0000f0" stroke="none" stroke-width="1" />
<rect x="138.00" y="640.05" width="15.80" height="18.35" fill="#b3e0b3" stroke="none" stroke-width="1" />
<rect x="161.70" y="627.81" width="16.30" height="30.59" fill="#00be00" stroke="none" stroke-width="1" />
<line x1="98.80" y1="638.11" x2="98.80" y2="650.35" stroke="#1a1a1a" stroke-width="0.95" />
<line x1="94.60" y1="638.11" x2="103.00" y2="638.11" stroke="#1a1a1a" stroke-width="1.0" />
<line x1="94.60" y1="650.35" x2="103.00" y2="650.35" stroke="#1a1a1a" stroke-width="1.0" />
<line x1="122.20" y1="620.08" x2="122.20" y2="639.40" stroke="#1a1a1a" stroke-width="0.95" />
<line x1="118.00" y1="620.08" x2="126.40" y2="620.08" stroke="#1a1a1a" stroke-width="1.0" />
<line x1="118.00" y1="639.40" x2="126.40" y2="639.40" stroke="#1a1a1a" stroke-width="1.0" />
<line x1="145.90" y1="633.61" x2="145.90" y2="645.20" stroke="#1a1a1a" stroke-width="0.95" />
<line x1="141.70" y1="633.61" x2="150.10" y2="633.61" stroke="#1a1a1a" stroke-width="1.0" />
<line x1="141.70" y1="645.20" x2="150.10" y2="645.20" stroke="#1a1a1a" stroke-width="1.0" />
<line x1="169.85" y1="606.88" x2="169.85" y2="648.42" stroke="#1a1a1a" stroke-width="0.95" />
<line x1="165.65" y1="606.88" x2="174.05" y2="606.88" stroke="#1a1a1a" stroke-width="1.0" />
<line x1="165.65" y1="648.42" x2="174.05" y2="648.42" stroke="#1a1a1a" stroke-width="1.0" />
<circle cx="98.70" cy="636.30" r="2.4" fill="#000"/>
<circle cx="95.30" cy="643.40" r="2.4" fill="#000"/>
<circle cx="102.00" cy="646.50" r="2.4" fill="#000"/>
<circle cx="98.70" cy="650.60" r="2.4" fill="#000"/>
<circle cx="122.30" cy="616.00" r="2.4" fill="#000"/>
<circle cx="122.30" cy="630.60" r="2.4" fill="#000"/>
<circle cx="122.30" cy="635.30" r="2.4" fill="#000"/>
<circle cx="122.30" cy="639.00" r="2.4" fill="#000"/>
<circle cx="151.80" cy="631.30" r="2.4" fill="#000"/>
<circle cx="146.10" cy="635.30" r="2.4" fill="#000"/>
<circle cx="140.00" cy="639.40" r="2.4" fill="#000"/>
<circle cx="151.80" cy="640.00" r="2.4" fill="#000"/>
<circle cx="146.10" cy="642.80" r="2.4" fill="#000"/>
<circle cx="146.10" cy="648.90" r="2.4" fill="#000"/>
<circle cx="169.50" cy="591.20" r="2.4" fill="#000"/>
<circle cx="163.40" cy="633.30" r="2.4" fill="#000"/>
<circle cx="175.60" cy="633.30" r="2.4" fill="#000"/>
<circle cx="169.50" cy="637.00" r="2.4" fill="#000"/>
<circle cx="169.50" cy="643.50" r="2.4" fill="#000"/>
<line x1="82.80" y1="561.20" x2="82.80" y2="659.00" stroke="#111" stroke-width="1.25" />
<line x1="82.20" y1="658.40" x2="186.10" y2="658.40" stroke="#111" stroke-width="1.25" />
<line x1="78.20" y1="658.40" x2="82.80" y2="658.40" stroke="#111" stroke-width="1.1" />
<text x="77.7" y="661.7" font-size="9.2" font-weight="bold" fill="#000" text-anchor="end" >0</text>
<line x1="78.20" y1="626.20" x2="82.80" y2="626.20" stroke="#111" stroke-width="1.1" />
<text x="71.6" y="629.4" font-size="9.2" font-weight="bold" text-anchor="end" fill="#000" textLength="20.6" lengthAdjust="spacingAndGlyphs">1×10</text>
<text x="74.1" y="626.4" font-size="6.2" font-weight="bold" text-anchor="middle" fill="#000">5</text>
<line x1="78.20" y1="594.00" x2="82.80" y2="594.00" stroke="#111" stroke-width="1.1" />
<text x="71.6" y="597.2" font-size="9.2" font-weight="bold" text-anchor="end" fill="#000" textLength="20.6" lengthAdjust="spacingAndGlyphs">2×10</text>
<text x="74.1" y="594.2" font-size="6.2" font-weight="bold" text-anchor="middle" fill="#000">5</text>
<line x1="78.20" y1="561.80" x2="82.80" y2="561.80" stroke="#111" stroke-width="1.1" />
<text x="71.6" y="565.0" font-size="9.2" font-weight="bold" text-anchor="end" fill="#000" textLength="20.6" lengthAdjust="spacingAndGlyphs">3×10</text>
<text x="74.1" y="562.0" font-size="6.2" font-weight="bold" text-anchor="middle" fill="#000">5</text>
<line x1="98.40" y1="602.60" x2="122.60" y2="602.60" stroke="#6a6a6a" stroke-width="1.6" />
<line x1="98.40" y1="599.70" x2="98.40" y2="605.50" stroke="#6a6a6a" stroke-width="1.0" />
<line x1="122.60" y1="599.70" x2="122.60" y2="605.50" stroke="#6a6a6a" stroke-width="1.0" />
<text x="107.46" y="603.06" font-size="16" font-weight="bold" fill="#111" stroke="#111" stroke-width="0.35" letter-spacing="0.38">*</text>
<line x1="145.70" y1="585.40" x2="170.50" y2="585.40" stroke="#6a6a6a" stroke-width="1.6" />
<line x1="145.70" y1="582.50" x2="145.70" y2="588.30" stroke="#6a6a6a" stroke-width="1.0" />
<line x1="170.50" y1="582.50" x2="170.50" y2="588.30" stroke="#6a6a6a" stroke-width="1.0" />
<text x="158.1" y="580.5" font-size="9.4" fill="#222" text-anchor="middle" >ns</text>
<text x="100.9" y="553.6" font-size="9.6" font-weight="bold" fill="#000" textLength="66.9" lengthAdjust="spacingAndGlyphs" >Total ATP level</text>
<text transform="translate(45.7,609.6) rotate(-90)" font-size="10.2" font-weight="bold" text-anchor="middle" fill="#000" textLength="91.5" lengthAdjust="spacingAndGlyphs">Relative lights units</text>
<rect x="244.20" y="646.87" width="15.90" height="10.53" fill="#c6dcf6" stroke="none" stroke-width="1" />
<rect x="268.00" y="620.56" width="15.90" height="36.84" fill="#0000f0" stroke="none" stroke-width="1" />
<rect x="291.40" y="636.35" width="15.90" height="21.05" fill="#b3e0b3" stroke="none" stroke-width="1" />
<rect x="315.00" y="621.51" width="15.60" height="35.89" fill="#00be00" stroke="none" stroke-width="1" />
<line x1="252.15" y1="644.00" x2="252.15" y2="649.74" stroke="#1a1a1a" stroke-width="0.95" />
<line x1="247.95" y1="644.00" x2="256.35" y2="644.00" stroke="#1a1a1a" stroke-width="1.0" />
<line x1="247.95" y1="649.74" x2="256.35" y2="649.74" stroke="#1a1a1a" stroke-width="1.0" />
<line x1="275.95" y1="608.11" x2="275.95" y2="633.00" stroke="#1a1a1a" stroke-width="0.95" />
<line x1="271.75" y1="608.11" x2="280.15" y2="608.11" stroke="#1a1a1a" stroke-width="1.0" />
<line x1="271.75" y1="633.00" x2="280.15" y2="633.00" stroke="#1a1a1a" stroke-width="1.0" />
<line x1="299.35" y1="627.25" x2="299.35" y2="644.96" stroke="#1a1a1a" stroke-width="0.95" />
<line x1="295.15" y1="627.25" x2="303.55" y2="627.25" stroke="#1a1a1a" stroke-width="1.0" />
<line x1="295.15" y1="644.96" x2="303.55" y2="644.96" stroke="#1a1a1a" stroke-width="1.0" />
<line x1="322.80" y1="611.46" x2="322.80" y2="632.52" stroke="#1a1a1a" stroke-width="0.95" />
<line x1="318.60" y1="611.46" x2="327.00" y2="611.46" stroke="#1a1a1a" stroke-width="1.0" />
<line x1="318.60" y1="632.52" x2="327.00" y2="632.52" stroke="#1a1a1a" stroke-width="1.0" />
<circle cx="256.00" cy="642.80" r="2.4" fill="#000"/>
<circle cx="249.90" cy="645.50" r="2.4" fill="#000"/>
<circle cx="256.00" cy="646.90" r="2.4" fill="#000"/>
<circle cx="252.00" cy="650.60" r="2.4" fill="#000"/>
<circle cx="271.70" cy="611.50" r="2.4" fill="#000"/>
<circle cx="278.80" cy="610.30" r="2.4" fill="#000"/>
<circle cx="275.80" cy="625.20" r="2.4" fill="#000"/>
<circle cx="275.80" cy="636.70" r="2.4" fill="#000"/>
<circle cx="299.10" cy="621.70" r="2.4" fill="#000"/>
<circle cx="299.10" cy="630.60" r="2.4" fill="#000"/>
<circle cx="295.50" cy="636.90" r="2.4" fill="#000"/>
<circle cx="303.20" cy="635.90" r="2.4" fill="#000"/>
<circle cx="299.10" cy="640.00" r="2.4" fill="#000"/>
<circle cx="299.10" cy="648.10" r="2.4" fill="#000"/>
<circle cx="319.10" cy="612.50" r="2.4" fill="#000"/>
<circle cx="325.60" cy="614.00" r="2.4" fill="#000"/>
<circle cx="319.10" cy="621.10" r="2.4" fill="#000"/>
<circle cx="325.60" cy="622.10" r="2.4" fill="#000"/>
<circle cx="322.50" cy="639.40" r="2.4" fill="#000"/>
<line x1="236.40" y1="561.10" x2="236.40" y2="658.00" stroke="#111" stroke-width="1.25" />
<line x1="235.80" y1="657.40" x2="338.80" y2="657.40" stroke="#111" stroke-width="1.25" />
<line x1="231.80" y1="657.40" x2="236.40" y2="657.40" stroke="#111" stroke-width="1.1" />
<text x="231.3" y="660.7" font-size="9.2" font-weight="bold" fill="#000" text-anchor="end" >0</text>
<line x1="231.80" y1="638.26" x2="236.40" y2="638.26" stroke="#111" stroke-width="1.1" />
<text x="231.3" y="641.6" font-size="9.2" font-weight="bold" fill="#000" text-anchor="end" >20</text>
<line x1="231.80" y1="619.12" x2="236.40" y2="619.12" stroke="#111" stroke-width="1.1" />
<text x="231.3" y="622.4" font-size="9.2" font-weight="bold" fill="#000" text-anchor="end" >40</text>
<line x1="231.80" y1="599.98" x2="236.40" y2="599.98" stroke="#111" stroke-width="1.1" />
<text x="231.3" y="603.3" font-size="9.2" font-weight="bold" fill="#000" text-anchor="end" >60</text>
<line x1="231.80" y1="580.84" x2="236.40" y2="580.84" stroke="#111" stroke-width="1.1" />
<text x="231.3" y="584.2" font-size="9.2" font-weight="bold" fill="#000" text-anchor="end" >80</text>
<line x1="231.80" y1="561.70" x2="236.40" y2="561.70" stroke="#111" stroke-width="1.1" />
<text x="231.3" y="565.0" font-size="9.2" font-weight="bold" fill="#000" text-anchor="end" >100</text>
<line x1="250.90" y1="596.70" x2="278.20" y2="596.70" stroke="#6a6a6a" stroke-width="1.6" />
<line x1="250.90" y1="593.80" x2="250.90" y2="599.60" stroke="#6a6a6a" stroke-width="1.0" />
<line x1="278.20" y1="593.80" x2="278.20" y2="599.60" stroke="#6a6a6a" stroke-width="1.0" />
<text x="258.21" y="597.16" font-size="16" font-weight="bold" fill="#111" stroke="#111" stroke-width="0.35" letter-spacing="0.38">**</text>
<line x1="298.10" y1="596.70" x2="325.00" y2="596.70" stroke="#6a6a6a" stroke-width="1.6" />
<line x1="298.10" y1="593.80" x2="298.10" y2="599.60" stroke="#6a6a6a" stroke-width="1.0" />
<line x1="325.00" y1="593.80" x2="325.00" y2="599.60" stroke="#6a6a6a" stroke-width="1.0" />
<text x="308.51" y="597.16" font-size="16" font-weight="bold" fill="#111" stroke="#111" stroke-width="0.35" letter-spacing="0.38">*</text>
<text x="245.5" y="554.2" font-size="9.6" font-weight="bold" fill="#000" textLength="96.2" lengthAdjust="spacingAndGlyphs" >% Mitochondrial ATP</text>
<text transform="translate(211.0,609.2) rotate(-90)" font-size="10.2" font-weight="bold" text-anchor="middle" fill="#000" textLength="52.2" lengthAdjust="spacingAndGlyphs">Percentage</text>
<rect x="391.20" y="630.63" width="15.90" height="25.57" fill="#c6dcf6" stroke="none" stroke-width="1" />
<rect x="415.00" y="626.37" width="15.50" height="29.83" fill="#0000f0" stroke="none" stroke-width="1" />
<rect x="438.40" y="628.26" width="15.40" height="27.94" fill="#b3e0b3" stroke="none" stroke-width="1" />
<rect x="462.00" y="605.54" width="15.20" height="50.66" fill="#00be00" stroke="none" stroke-width="1" />
<line x1="399.15" y1="624.95" x2="399.15" y2="636.31" stroke="#1a1a1a" stroke-width="0.95" />
<line x1="394.95" y1="624.95" x2="403.35" y2="624.95" stroke="#1a1a1a" stroke-width="1.0" />
<line x1="394.95" y1="636.31" x2="403.35" y2="636.31" stroke="#1a1a1a" stroke-width="1.0" />
<line x1="422.75" y1="613.59" x2="422.75" y2="639.15" stroke="#1a1a1a" stroke-width="0.95" />
<line x1="418.55" y1="613.59" x2="426.95" y2="613.59" stroke="#1a1a1a" stroke-width="1.0" />
<line x1="418.55" y1="639.15" x2="426.95" y2="639.15" stroke="#1a1a1a" stroke-width="1.0" />
<line x1="446.10" y1="618.32" x2="446.10" y2="638.21" stroke="#1a1a1a" stroke-width="0.95" />
<line x1="441.90" y1="618.32" x2="450.30" y2="618.32" stroke="#1a1a1a" stroke-width="1.0" />
<line x1="441.90" y1="638.21" x2="450.30" y2="638.21" stroke="#1a1a1a" stroke-width="1.0" />
<line x1="469.60" y1="598.91" x2="469.60" y2="612.16" stroke="#1a1a1a" stroke-width="0.95" />
<line x1="465.40" y1="598.91" x2="473.80" y2="598.91" stroke="#1a1a1a" stroke-width="1.0" />
<line x1="465.40" y1="612.16" x2="473.80" y2="612.16" stroke="#1a1a1a" stroke-width="1.0" />
<circle cx="399.30" cy="624.10" r="2.4" fill="#000"/>
<circle cx="395.30" cy="630.20" r="2.4" fill="#000"/>
<circle cx="402.80" cy="630.20" r="2.4" fill="#000"/>
<circle cx="399.30" cy="638.80" r="2.4" fill="#000"/>
<circle cx="422.70" cy="615.60" r="2.4" fill="#000"/>
<circle cx="422.70" cy="620.10" r="2.4" fill="#000"/>
<circle cx="422.70" cy="625.20" r="2.4" fill="#000"/>
<circle cx="422.70" cy="645.50" r="2.4" fill="#000"/>
<circle cx="446.10" cy="612.00" r="2.4" fill="#000"/>
<circle cx="440.00" cy="627.20" r="2.4" fill="#000"/>
<circle cx="446.10" cy="627.20" r="2.4" fill="#000"/>
<circle cx="452.20" cy="627.80" r="2.4" fill="#000"/>
<circle cx="446.10" cy="635.30" r="2.4" fill="#000"/>
<circle cx="446.10" cy="642.40" r="2.4" fill="#000"/>
<circle cx="465.80" cy="600.80" r="2.4" fill="#000"/>
<circle cx="470.50" cy="600.80" r="2.4" fill="#000"/>
<circle cx="465.80" cy="604.20" r="2.4" fill="#000"/>
<circle cx="471.90" cy="604.80" r="2.4" fill="#000"/>
<circle cx="469.50" cy="616.00" r="2.4" fill="#000"/>
<line x1="383.60" y1="560.90" x2="383.60" y2="656.80" stroke="#111" stroke-width="1.25" />
<line x1="383.00" y1="656.20" x2="485.40" y2="656.20" stroke="#111" stroke-width="1.25" />
<line x1="379.00" y1="656.20" x2="383.60" y2="656.20" stroke="#111" stroke-width="1.1" />
<text x="378.5" y="659.5" font-size="9.2" font-weight="bold" fill="#000" text-anchor="end" >0</text>
<line x1="379.00" y1="637.26" x2="383.60" y2="637.26" stroke="#111" stroke-width="1.1" />
<text x="378.5" y="640.6" font-size="9.2" font-weight="bold" fill="#000" text-anchor="end" >20</text>
<line x1="379.00" y1="618.32" x2="383.60" y2="618.32" stroke="#111" stroke-width="1.1" />
<text x="378.5" y="621.6" font-size="9.2" font-weight="bold" fill="#000" text-anchor="end" >40</text>
<line x1="379.00" y1="599.38" x2="383.60" y2="599.38" stroke="#111" stroke-width="1.1" />
<text x="378.5" y="602.7" font-size="9.2" font-weight="bold" fill="#000" text-anchor="end" >60</text>
<line x1="379.00" y1="580.44" x2="383.60" y2="580.44" stroke="#111" stroke-width="1.1" />
<text x="378.5" y="583.8" font-size="9.2" font-weight="bold" fill="#000" text-anchor="end" >80</text>
<line x1="379.00" y1="561.50" x2="383.60" y2="561.50" stroke="#111" stroke-width="1.1" />
<text x="378.5" y="564.8" font-size="9.2" font-weight="bold" fill="#000" text-anchor="end" >100</text>
<line x1="399.30" y1="594.20" x2="422.30" y2="594.20" stroke="#6a6a6a" stroke-width="1.6" />
<line x1="399.30" y1="591.30" x2="399.30" y2="597.10" stroke="#6a6a6a" stroke-width="1.0" />
<line x1="422.30" y1="591.30" x2="422.30" y2="597.10" stroke="#6a6a6a" stroke-width="1.0" />
<text x="410.8" y="589.3" font-size="9.4" fill="#222" text-anchor="middle" >ns</text>
<line x1="446.10" y1="594.20" x2="469.50" y2="594.20" stroke="#6a6a6a" stroke-width="1.6" />
<line x1="446.10" y1="591.30" x2="446.10" y2="597.10" stroke="#6a6a6a" stroke-width="1.0" />
<line x1="469.50" y1="591.30" x2="469.50" y2="597.10" stroke="#6a6a6a" stroke-width="1.0" />
<text x="451.46" y="594.66" font-size="16" font-weight="bold" fill="#111" stroke="#111" stroke-width="0.35" letter-spacing="0.38">**</text>
<text x="405.8" y="553.6" font-size="9.6" font-weight="bold" fill="#000" textLength="77.4" lengthAdjust="spacingAndGlyphs" >% Glycolytic ATP</text>
<text transform="translate(357.6,608.8) rotate(-90)" font-size="10.2" font-weight="bold" text-anchor="middle" fill="#000" textLength="52.3" lengthAdjust="spacingAndGlyphs">Percentage</text>
<rect x="56.00" y="669.60" width="13.00" height="14.20" fill="#c6dcf6" stroke="none" stroke-width="1" />
<text x="73.6" y="682.2" font-size="10" fill="#000" textLength="85.4" lengthAdjust="spacingAndGlyphs" >PDAC084T Control</text>
<rect x="166.30" y="669.60" width="12.20" height="14.20" fill="#0000f0" stroke="none" stroke-width="1" />
<text x="182.2" y="682.2" font-size="10" fill="#000" textLength="89.8" lengthAdjust="spacingAndGlyphs" >PDAC084T Relapse</text>
<rect x="278.30" y="669.60" width="13.30" height="14.20" fill="#b3e0b3" stroke="none" stroke-width="1" />
<text x="295.7" y="682.2" font-size="10" fill="#000" textLength="85.2" lengthAdjust="spacingAndGlyphs" >PDAC032T Control</text>
<rect x="389.40" y="669.60" width="12.30" height="14.20" fill="#00be00" stroke="none" stroke-width="1" />
<text x="406.0" y="682.2" font-size="10" fill="#000" textLength="90.0" lengthAdjust="spacingAndGlyphs" >PDAC032T Relapse</text>
</svg>
</body></html>
